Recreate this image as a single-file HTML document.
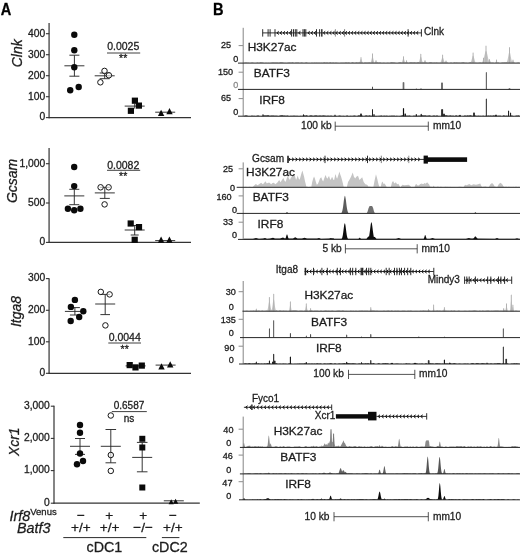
<!DOCTYPE html>
<html lang="en">
<head>
<meta charset="utf-8">
<title>Figure</title>
<style>
html,body{margin:0;padding:0;background:#fff;}
body{width:520px;height:557px;overflow:hidden;font-family:"Liberation Sans",Arial,Helvetica,sans-serif;}
svg{display:block;}
svg text{font-family:"Liberation Sans",Arial,Helvetica,sans-serif;}
</style>
</head>
<body>
<svg width="520" height="557" viewBox="0 0 520 557">
<rect x="0" y="0" width="520" height="557" fill="#ffffff"/>
<text transform="translate(0.70,14.80) scale(0.88,1)" font-size="16.6" text-anchor="start" font-weight="bold" fill="#000" stroke="#000" stroke-width="0.28" >A</text>
<text transform="translate(213.00,14.80) scale(0.885,1)" font-size="16.5" text-anchor="start" font-weight="bold" fill="#000" stroke="#000" stroke-width="0.28" >B</text>
<line x1="49.10" y1="23.00" x2="49.10" y2="118.20" stroke="#666" stroke-width="1.6" />
<line x1="48.70" y1="117.60" x2="191.00" y2="117.60" stroke="#333" stroke-width="1.2" />
<line x1="45.90" y1="33.70" x2="49.30" y2="33.70" stroke="#333" stroke-width="1.1" />
<text transform="translate(45.20,36.50) scale(1.03,1)" font-size="10.0" text-anchor="end" fill="#1c1c1c" stroke="#1c1c1c" stroke-width="0.28" >400</text>
<line x1="45.90" y1="54.70" x2="49.30" y2="54.70" stroke="#333" stroke-width="1.1" />
<text transform="translate(45.20,57.50) scale(1.03,1)" font-size="10.0" text-anchor="end" fill="#1c1c1c" stroke="#1c1c1c" stroke-width="0.28" >300</text>
<line x1="45.90" y1="75.70" x2="49.30" y2="75.70" stroke="#333" stroke-width="1.1" />
<text transform="translate(45.20,78.50) scale(1.03,1)" font-size="10.0" text-anchor="end" fill="#1c1c1c" stroke="#1c1c1c" stroke-width="0.28" >200</text>
<line x1="45.90" y1="96.70" x2="49.30" y2="96.70" stroke="#333" stroke-width="1.1" />
<text transform="translate(45.20,99.50) scale(1.03,1)" font-size="10.0" text-anchor="end" fill="#1c1c1c" stroke="#1c1c1c" stroke-width="0.28" >100</text>
<line x1="45.90" y1="117.60" x2="49.30" y2="117.60" stroke="#333" stroke-width="1.1" />
<text transform="translate(45.20,120.40) scale(1.03,1)" font-size="10.0" text-anchor="end" fill="#1c1c1c" stroke="#1c1c1c" stroke-width="0.28" >0</text>
<text transform="translate(21.60,53.30) rotate(-90)" font-size="14" text-anchor="middle" font-style="italic" fill="#1c1c1c" stroke="#1c1c1c" stroke-width="0.28">Clnk</text>
<line x1="64.40" y1="65.80" x2="84.40" y2="65.80" stroke="#2a2a2a" stroke-width="0.95" />
<line x1="74.40" y1="55.20" x2="74.40" y2="76.20" stroke="#2a2a2a" stroke-width="0.95" />
<line x1="69.40" y1="55.20" x2="79.40" y2="55.20" stroke="#2a2a2a" stroke-width="0.95" />
<line x1="69.40" y1="76.20" x2="79.40" y2="76.20" stroke="#2a2a2a" stroke-width="0.95" />
<circle cx="74.30" cy="34.70" r="3.2" fill="#0a0a0a"/>
<circle cx="74.30" cy="50.20" r="3.2" fill="#0a0a0a"/>
<circle cx="74.30" cy="67.20" r="3.2" fill="#0a0a0a"/>
<circle cx="78.70" cy="87.00" r="3.2" fill="#0a0a0a"/>
<circle cx="70.20" cy="90.20" r="3.2" fill="#0a0a0a"/>
<line x1="94.70" y1="75.80" x2="114.70" y2="75.80" stroke="#2a2a2a" stroke-width="0.95" />
<line x1="104.70" y1="73.00" x2="104.70" y2="78.70" stroke="#2a2a2a" stroke-width="0.95" />
<line x1="99.70" y1="73.00" x2="109.70" y2="73.00" stroke="#2a2a2a" stroke-width="0.95" />
<line x1="99.70" y1="78.70" x2="109.70" y2="78.70" stroke="#2a2a2a" stroke-width="0.95" />
<circle cx="104.50" cy="70.90" r="2.75" fill="#fff" fill-opacity="0.6" stroke="#161616" stroke-width="1.0"/>
<circle cx="108.90" cy="75.30" r="2.75" fill="#fff" fill-opacity="0.6" stroke="#161616" stroke-width="1.0"/>
<circle cx="100.40" cy="82.30" r="2.75" fill="#fff" fill-opacity="0.6" stroke="#161616" stroke-width="1.0"/>
<text x="123.20" y="50.00" font-size="10.5" text-anchor="middle" fill="#1c1c1c" stroke="#1c1c1c" stroke-width="0.28" >0.0025</text>
<line x1="107.00" y1="53.00" x2="140.20" y2="53.00" stroke="#2a2a2a" stroke-width="0.9" />
<text x="123.20" y="61.90" font-size="10.5" text-anchor="middle" fill="#1c1c1c" stroke="#1c1c1c" stroke-width="0.28" >**</text>
<line x1="124.70" y1="106.10" x2="144.70" y2="106.10" stroke="#2a2a2a" stroke-width="0.95" />
<line x1="134.70" y1="103.50" x2="134.70" y2="108.60" stroke="#2a2a2a" stroke-width="0.9" />
<rect x="131.80" y="97.60" width="6.2" height="6.2" fill="#0a0a0a"/>
<rect x="135.80" y="102.50" width="6.2" height="6.2" fill="#0a0a0a"/>
<rect x="127.80" y="107.70" width="6.2" height="6.2" fill="#0a0a0a"/>
<line x1="155.20" y1="112.20" x2="175.20" y2="112.20" stroke="#2a2a2a" stroke-width="0.95" />
<path d="M157.90,116.04 L164.30,116.04 L161.10,109.76 Z" fill="#0a0a0a"/>
<path d="M166.30,114.24 L172.70,114.24 L169.50,107.96 Z" fill="#0a0a0a"/>
<line x1="49.10" y1="148.10" x2="49.10" y2="243.00" stroke="#666" stroke-width="1.6" />
<line x1="48.70" y1="242.40" x2="191.00" y2="242.40" stroke="#333" stroke-width="1.2" />
<line x1="45.90" y1="163.70" x2="49.30" y2="163.70" stroke="#333" stroke-width="1.1" />
<text transform="translate(45.20,166.50) scale(1.03,1)" font-size="10.0" text-anchor="end" fill="#1c1c1c" stroke="#1c1c1c" stroke-width="0.28" >1,000</text>
<line x1="45.90" y1="203.00" x2="49.30" y2="203.00" stroke="#333" stroke-width="1.1" />
<text transform="translate(45.20,205.80) scale(1.03,1)" font-size="10.0" text-anchor="end" fill="#1c1c1c" stroke="#1c1c1c" stroke-width="0.28" >500</text>
<line x1="45.90" y1="242.40" x2="49.30" y2="242.40" stroke="#333" stroke-width="1.1" />
<text transform="translate(45.20,245.20) scale(1.03,1)" font-size="10.0" text-anchor="end" fill="#1c1c1c" stroke="#1c1c1c" stroke-width="0.28" >0</text>
<text transform="translate(17.20,180.90) rotate(-90)" font-size="14" text-anchor="middle" font-style="italic" fill="#1c1c1c" stroke="#1c1c1c" stroke-width="0.28">Gcsam</text>
<line x1="64.30" y1="195.90" x2="84.30" y2="195.90" stroke="#2a2a2a" stroke-width="0.95" />
<line x1="74.30" y1="189.30" x2="74.30" y2="204.70" stroke="#2a2a2a" stroke-width="0.95" />
<line x1="69.30" y1="189.30" x2="79.30" y2="189.30" stroke="#2a2a2a" stroke-width="0.95" />
<line x1="69.30" y1="204.70" x2="79.30" y2="204.70" stroke="#2a2a2a" stroke-width="0.95" />
<circle cx="74.20" cy="167.00" r="3.2" fill="#0a0a0a"/>
<circle cx="74.20" cy="186.10" r="3.2" fill="#0a0a0a"/>
<circle cx="67.90" cy="208.70" r="3.2" fill="#0a0a0a"/>
<circle cx="74.20" cy="210.20" r="3.2" fill="#0a0a0a"/>
<circle cx="80.40" cy="208.70" r="3.2" fill="#0a0a0a"/>
<line x1="94.80" y1="192.90" x2="114.80" y2="192.90" stroke="#2a2a2a" stroke-width="0.95" />
<line x1="104.80" y1="187.30" x2="104.80" y2="198.40" stroke="#2a2a2a" stroke-width="0.95" />
<line x1="99.80" y1="187.30" x2="109.80" y2="187.30" stroke="#2a2a2a" stroke-width="0.95" />
<line x1="99.80" y1="198.40" x2="109.80" y2="198.40" stroke="#2a2a2a" stroke-width="0.95" />
<circle cx="100.60" cy="187.30" r="2.75" fill="#fff" fill-opacity="0.6" stroke="#161616" stroke-width="1.0"/>
<circle cx="108.60" cy="187.30" r="2.75" fill="#fff" fill-opacity="0.6" stroke="#161616" stroke-width="1.0"/>
<circle cx="104.60" cy="204.40" r="2.75" fill="#fff" fill-opacity="0.6" stroke="#161616" stroke-width="1.0"/>
<text x="123.20" y="168.60" font-size="10.5" text-anchor="middle" fill="#1c1c1c" stroke="#1c1c1c" stroke-width="0.28" >0.0082</text>
<line x1="107.00" y1="170.30" x2="140.20" y2="170.30" stroke="#2a2a2a" stroke-width="0.9" />
<text x="123.20" y="180.30" font-size="10.5" text-anchor="middle" fill="#1c1c1c" stroke="#1c1c1c" stroke-width="0.28" >**</text>
<line x1="124.70" y1="230.00" x2="144.70" y2="230.00" stroke="#2a2a2a" stroke-width="0.95" />
<line x1="134.70" y1="225.50" x2="134.70" y2="235.00" stroke="#2a2a2a" stroke-width="0.95" />
<line x1="130.70" y1="225.50" x2="138.70" y2="225.50" stroke="#2a2a2a" stroke-width="0.95" />
<line x1="130.70" y1="235.00" x2="138.70" y2="235.00" stroke="#2a2a2a" stroke-width="0.95" />
<rect x="127.60" y="220.40" width="6.2" height="6.2" fill="#0a0a0a"/>
<rect x="135.90" y="224.00" width="6.2" height="6.2" fill="#0a0a0a"/>
<rect x="131.60" y="236.70" width="6.2" height="6.2" fill="#0a0a0a"/>
<line x1="155.20" y1="240.60" x2="175.20" y2="240.60" stroke="#2a2a2a" stroke-width="0.95" />
<path d="M157.90,242.74 L164.30,242.74 L161.10,236.46 Z" fill="#0a0a0a"/>
<path d="M166.20,242.74 L172.60,242.74 L169.40,236.46 Z" fill="#0a0a0a"/>
<line x1="49.10" y1="278.40" x2="49.10" y2="373.90" stroke="#666" stroke-width="1.6" />
<line x1="48.70" y1="373.30" x2="191.00" y2="373.30" stroke="#333" stroke-width="1.2" />
<line x1="45.90" y1="278.60" x2="49.30" y2="278.60" stroke="#333" stroke-width="1.1" />
<text transform="translate(45.20,281.40) scale(1.03,1)" font-size="10.0" text-anchor="end" fill="#1c1c1c" stroke="#1c1c1c" stroke-width="0.28" >300</text>
<line x1="45.90" y1="310.30" x2="49.30" y2="310.30" stroke="#333" stroke-width="1.1" />
<text transform="translate(45.20,313.10) scale(1.03,1)" font-size="10.0" text-anchor="end" fill="#1c1c1c" stroke="#1c1c1c" stroke-width="0.28" >200</text>
<line x1="45.90" y1="341.80" x2="49.30" y2="341.80" stroke="#333" stroke-width="1.1" />
<text transform="translate(45.20,344.60) scale(1.03,1)" font-size="10.0" text-anchor="end" fill="#1c1c1c" stroke="#1c1c1c" stroke-width="0.28" >100</text>
<line x1="45.90" y1="373.30" x2="49.30" y2="373.30" stroke="#333" stroke-width="1.1" />
<text transform="translate(45.20,376.10) scale(1.03,1)" font-size="10.0" text-anchor="end" fill="#1c1c1c" stroke="#1c1c1c" stroke-width="0.28" >0</text>
<text transform="translate(21.40,311.50) rotate(-90)" font-size="14" text-anchor="middle" font-style="italic" fill="#1c1c1c" stroke="#1c1c1c" stroke-width="0.28">Itga8</text>
<line x1="64.90" y1="311.40" x2="84.90" y2="311.40" stroke="#2a2a2a" stroke-width="0.95" />
<line x1="74.90" y1="307.60" x2="74.90" y2="315.00" stroke="#2a2a2a" stroke-width="0.95" />
<line x1="69.90" y1="307.60" x2="79.90" y2="307.60" stroke="#2a2a2a" stroke-width="0.95" />
<line x1="69.90" y1="315.00" x2="79.90" y2="315.00" stroke="#2a2a2a" stroke-width="0.95" />
<circle cx="74.90" cy="299.90" r="3.2" fill="#0a0a0a"/>
<circle cx="70.90" cy="306.90" r="3.2" fill="#0a0a0a"/>
<circle cx="83.30" cy="311.30" r="3.2" fill="#0a0a0a"/>
<circle cx="79.20" cy="317.00" r="3.2" fill="#0a0a0a"/>
<circle cx="70.70" cy="321.00" r="3.2" fill="#0a0a0a"/>
<line x1="95.20" y1="304.00" x2="115.20" y2="304.00" stroke="#2a2a2a" stroke-width="0.95" />
<line x1="105.20" y1="294.40" x2="105.20" y2="314.60" stroke="#2a2a2a" stroke-width="0.95" />
<line x1="100.40" y1="294.40" x2="110.00" y2="294.40" stroke="#2a2a2a" stroke-width="0.95" />
<line x1="100.40" y1="314.60" x2="110.00" y2="314.60" stroke="#2a2a2a" stroke-width="0.95" />
<circle cx="100.80" cy="291.90" r="2.75" fill="#fff" fill-opacity="0.6" stroke="#161616" stroke-width="1.0"/>
<circle cx="109.60" cy="294.40" r="2.75" fill="#fff" fill-opacity="0.6" stroke="#161616" stroke-width="1.0"/>
<circle cx="105.40" cy="325.40" r="2.75" fill="#fff" fill-opacity="0.6" stroke="#161616" stroke-width="1.0"/>
<text x="124.70" y="340.90" font-size="10.5" text-anchor="middle" fill="#1c1c1c" stroke="#1c1c1c" stroke-width="0.28" >0.0044</text>
<line x1="108.30" y1="343.00" x2="141.00" y2="343.00" stroke="#2a2a2a" stroke-width="0.9" />
<text x="124.70" y="352.50" font-size="10.5" text-anchor="middle" fill="#1c1c1c" stroke="#1c1c1c" stroke-width="0.28" >**</text>
<line x1="125.60" y1="365.90" x2="145.60" y2="365.90" stroke="#2a2a2a" stroke-width="0.95" />
<rect x="126.60" y="362.00" width="6.2" height="6.2" fill="#0a0a0a"/>
<rect x="132.40" y="364.30" width="6.2" height="6.2" fill="#0a0a0a"/>
<rect x="138.70" y="362.50" width="6.2" height="6.2" fill="#0a0a0a"/>
<line x1="155.60" y1="365.10" x2="175.60" y2="365.10" stroke="#2a2a2a" stroke-width="0.95" />
<path d="M158.30,369.54 L164.70,369.54 L161.50,363.26 Z" fill="#0a0a0a"/>
<path d="M167.00,367.54 L173.40,367.54 L170.20,361.26 Z" fill="#0a0a0a"/>
<line x1="54.00" y1="405.70" x2="54.00" y2="503.80" stroke="#666" stroke-width="1.6" />
<line x1="53.60" y1="503.20" x2="199.80" y2="503.20" stroke="#333" stroke-width="1.2" />
<line x1="50.80" y1="406.20" x2="54.20" y2="406.20" stroke="#333" stroke-width="1.1" />
<text transform="translate(49.80,409.00) scale(1.03,1)" font-size="10.0" text-anchor="end" fill="#1c1c1c" stroke="#1c1c1c" stroke-width="0.28" >3,000</text>
<line x1="50.80" y1="438.40" x2="54.20" y2="438.40" stroke="#333" stroke-width="1.1" />
<text transform="translate(49.80,441.20) scale(1.03,1)" font-size="10.0" text-anchor="end" fill="#1c1c1c" stroke="#1c1c1c" stroke-width="0.28" >2,000</text>
<line x1="50.80" y1="470.60" x2="54.20" y2="470.60" stroke="#333" stroke-width="1.1" />
<text transform="translate(49.80,473.40) scale(1.03,1)" font-size="10.0" text-anchor="end" fill="#1c1c1c" stroke="#1c1c1c" stroke-width="0.28" >1,000</text>
<line x1="50.80" y1="503.20" x2="54.20" y2="503.20" stroke="#333" stroke-width="1.1" />
<text transform="translate(49.80,506.00) scale(1.03,1)" font-size="10.0" text-anchor="end" fill="#1c1c1c" stroke="#1c1c1c" stroke-width="0.28" >0</text>
<text transform="translate(19.10,441.70) rotate(-90)" font-size="13.8" text-anchor="middle" font-style="italic" fill="#1c1c1c" stroke="#1c1c1c" stroke-width="0.28">Xcr1</text>
<line x1="70.00" y1="446.30" x2="90.00" y2="446.30" stroke="#2a2a2a" stroke-width="0.95" />
<line x1="80.00" y1="438.50" x2="80.00" y2="454.40" stroke="#2a2a2a" stroke-width="0.95" />
<line x1="75.00" y1="438.50" x2="85.00" y2="438.50" stroke="#2a2a2a" stroke-width="0.95" />
<line x1="75.00" y1="454.40" x2="85.00" y2="454.40" stroke="#2a2a2a" stroke-width="0.95" />
<circle cx="80.00" cy="425.00" r="3.2" fill="#0a0a0a"/>
<circle cx="80.00" cy="432.80" r="3.2" fill="#0a0a0a"/>
<circle cx="80.00" cy="453.50" r="3.2" fill="#0a0a0a"/>
<circle cx="83.00" cy="461.00" r="3.2" fill="#0a0a0a"/>
<circle cx="77.00" cy="464.30" r="3.2" fill="#0a0a0a"/>
<line x1="100.80" y1="446.30" x2="120.80" y2="446.30" stroke="#2a2a2a" stroke-width="0.95" />
<line x1="110.80" y1="429.50" x2="110.80" y2="462.80" stroke="#2a2a2a" stroke-width="0.95" />
<line x1="105.50" y1="429.50" x2="116.10" y2="429.50" stroke="#2a2a2a" stroke-width="0.95" />
<line x1="105.50" y1="462.80" x2="116.10" y2="462.80" stroke="#2a2a2a" stroke-width="0.95" />
<circle cx="110.80" cy="415.50" r="2.75" fill="#fff" fill-opacity="0.6" stroke="#161616" stroke-width="1.0"/>
<circle cx="110.80" cy="455.00" r="2.75" fill="#fff" fill-opacity="0.6" stroke="#161616" stroke-width="1.0"/>
<circle cx="110.80" cy="470.90" r="2.75" fill="#fff" fill-opacity="0.6" stroke="#161616" stroke-width="1.0"/>
<text x="129.00" y="408.80" font-size="10.0" text-anchor="middle" fill="#1c1c1c" stroke="#1c1c1c" stroke-width="0.28" >0.6587</text>
<line x1="111.80" y1="411.60" x2="146.80" y2="411.60" stroke="#2a2a2a" stroke-width="0.9" />
<text x="129.00" y="422.00" font-size="10.0" text-anchor="middle" fill="#1c1c1c" stroke="#1c1c1c" stroke-width="0.28" >ns</text>
<line x1="132.20" y1="457.40" x2="152.20" y2="457.40" stroke="#2a2a2a" stroke-width="0.95" />
<line x1="142.20" y1="442.40" x2="142.20" y2="471.80" stroke="#2a2a2a" stroke-width="0.95" />
<line x1="136.90" y1="442.40" x2="147.50" y2="442.40" stroke="#2a2a2a" stroke-width="0.95" />
<line x1="136.90" y1="471.80" x2="147.50" y2="471.80" stroke="#2a2a2a" stroke-width="0.95" />
<rect x="139.30" y="435.80" width="6.0" height="6.0" fill="#0a0a0a"/>
<rect x="139.30" y="444.50" width="6.0" height="6.0" fill="#0a0a0a"/>
<rect x="139.30" y="484.50" width="6.0" height="6.0" fill="#0a0a0a"/>
<line x1="163.80" y1="500.80" x2="183.80" y2="500.80" stroke="#2a2a2a" stroke-width="0.95" />
<path d="M168.60,504.35 L173.80,504.35 L171.20,499.25 Z" fill="#0a0a0a"/>
<path d="M173.00,503.75 L178.20,503.75 L175.60,498.65 Z" fill="#0a0a0a"/>
<text x="9.6" y="521.0" font-size="14.3" font-style="italic" fill="#1c1c1c" stroke="#1c1c1c" stroke-width="0.28">Irf8<tspan font-style="normal" font-size="9.5" dy="-5.9" dx="0.0">Venus</tspan></text>
<text x="17.00" y="532.50" font-size="14.3" text-anchor="start" font-style="italic" fill="#1c1c1c" stroke="#1c1c1c" stroke-width="0.28" >Batf3</text>
<text x="81.00" y="520.20" font-size="13.6" text-anchor="middle" fill="#1c1c1c" stroke="#1c1c1c" stroke-width="0.28" >−</text>
<text x="109.30" y="520.20" font-size="13.6" text-anchor="middle" fill="#1c1c1c" stroke="#1c1c1c" stroke-width="0.28" >+</text>
<text x="143.30" y="520.20" font-size="13.6" text-anchor="middle" fill="#1c1c1c" stroke="#1c1c1c" stroke-width="0.28" >+</text>
<text x="172.90" y="520.20" font-size="13.6" text-anchor="middle" fill="#1c1c1c" stroke="#1c1c1c" stroke-width="0.28" >−</text>
<text x="80.90" y="531.90" font-size="13.6" text-anchor="middle" fill="#1c1c1c" stroke="#1c1c1c" stroke-width="0.28" >+/+</text>
<text x="109.70" y="531.90" font-size="13.6" text-anchor="middle" fill="#1c1c1c" stroke="#1c1c1c" stroke-width="0.28" >+/+</text>
<text x="143.10" y="531.90" font-size="13.6" text-anchor="middle" fill="#1c1c1c" stroke="#1c1c1c" stroke-width="0.28" >−/−</text>
<text x="172.80" y="531.90" font-size="13.6" text-anchor="middle" fill="#1c1c1c" stroke="#1c1c1c" stroke-width="0.28" >+/+</text>
<line x1="63.30" y1="537.60" x2="146.30" y2="537.60" stroke="#2a2a2a" stroke-width="1.0" />
<line x1="161.90" y1="537.60" x2="179.40" y2="537.60" stroke="#2a2a2a" stroke-width="1.0" />
<text x="104.40" y="551.80" font-size="14.3" text-anchor="middle" fill="#1c1c1c" stroke="#1c1c1c" stroke-width="0.28" >cDC1</text>
<text x="169.80" y="551.80" font-size="14.3" text-anchor="middle" fill="#1c1c1c" stroke="#1c1c1c" stroke-width="0.28" >cDC2</text>
<line x1="262.70" y1="32.90" x2="421.40" y2="32.90" stroke="#1a1a1a" stroke-width="0.9" />
<path d="M278.66,31.30 L276.82,32.90 L278.66,34.50 M281.76,31.30 L279.92,32.90 L281.76,34.50 M284.86,31.30 L283.02,32.90 L284.86,34.50 M287.96,31.30 L286.12,32.90 L287.96,34.50 M291.06,31.30 L289.22,32.90 L291.06,34.50 M300.36,31.30 L298.52,32.90 L300.36,34.50 M309.66,31.30 L307.82,32.90 L309.66,34.50 M312.76,31.30 L310.92,32.90 L312.76,34.50 M315.86,31.30 L314.02,32.90 L315.86,34.50 M325.16,31.30 L323.32,32.90 L325.16,34.50 M328.26,31.30 L326.42,32.90 L328.26,34.50 M331.36,31.30 L329.52,32.90 L331.36,34.50 M334.46,31.30 L332.62,32.90 L334.46,34.50 M337.56,31.30 L335.72,32.90 L337.56,34.50 M340.66,31.30 L338.82,32.90 L340.66,34.50 M343.76,31.30 L341.92,32.90 L343.76,34.50 M346.86,31.30 L345.02,32.90 L346.86,34.50 M349.96,31.30 L348.12,32.90 L349.96,34.50 M353.06,31.30 L351.22,32.90 L353.06,34.50 M356.16,31.30 L354.32,32.90 L356.16,34.50 M359.26,31.30 L357.42,32.90 L359.26,34.50 M362.36,31.30 L360.52,32.90 L362.36,34.50 M365.46,31.30 L363.62,32.90 L365.46,34.50 M368.56,31.30 L366.72,32.90 L368.56,34.50 M371.66,31.30 L369.82,32.90 L371.66,34.50 M374.76,31.30 L372.92,32.90 L374.76,34.50 M377.86,31.30 L376.02,32.90 L377.86,34.50 M380.96,31.30 L379.12,32.90 L380.96,34.50 M384.06,31.30 L382.22,32.90 L384.06,34.50 M387.16,31.30 L385.32,32.90 L387.16,34.50 M390.26,31.30 L388.42,32.90 L390.26,34.50 M393.36,31.30 L391.52,32.90 L393.36,34.50 M396.46,31.30 L394.62,32.90 L396.46,34.50 M399.56,31.30 L397.72,32.90 L399.56,34.50 M402.66,31.30 L400.82,32.90 L402.66,34.50 M405.76,31.30 L403.92,32.90 L405.76,34.50 M408.86,31.30 L407.02,32.90 L408.86,34.50 M411.96,31.30 L410.12,32.90 L411.96,34.50 M415.06,31.30 L413.22,32.90 L415.06,34.50 M418.16,31.30 L416.32,32.90 L418.16,34.50" fill="#1a1a1a" fill-opacity="0.55" stroke="#1a1a1a" stroke-width="1.0" stroke-linejoin="miter"/>
<line x1="262.70" y1="29.20" x2="262.70" y2="36.60" stroke="#222" stroke-width="0.95" />
<line x1="268.10" y1="29.20" x2="268.10" y2="36.60" stroke="#222" stroke-width="0.95" />
<line x1="270.10" y1="29.20" x2="270.10" y2="36.60" stroke="#222" stroke-width="0.95" />
<line x1="275.00" y1="29.20" x2="275.00" y2="36.60" stroke="#222" stroke-width="0.95" />
<line x1="291.60" y1="29.20" x2="291.60" y2="36.60" stroke="#222" stroke-width="0.95" />
<line x1="293.50" y1="29.20" x2="293.50" y2="36.60" stroke="#222" stroke-width="0.95" />
<line x1="295.30" y1="29.20" x2="295.30" y2="36.60" stroke="#222" stroke-width="0.95" />
<line x1="296.80" y1="29.20" x2="296.80" y2="36.60" stroke="#222" stroke-width="0.95" />
<line x1="303.00" y1="29.20" x2="303.00" y2="36.60" stroke="#222" stroke-width="1.0" />
<line x1="304.40" y1="29.20" x2="304.40" y2="36.60" stroke="#222" stroke-width="1.0" />
<line x1="305.80" y1="29.20" x2="305.80" y2="36.60" stroke="#222" stroke-width="1.0" />
<line x1="316.50" y1="29.20" x2="316.50" y2="36.60" stroke="#222" stroke-width="0.95" />
<line x1="319.60" y1="29.20" x2="319.60" y2="36.60" stroke="#222" stroke-width="0.95" />
<line x1="321.60" y1="29.20" x2="321.60" y2="36.60" stroke="#222" stroke-width="0.95" />
<line x1="322.40" y1="29.20" x2="322.40" y2="36.60" stroke="#222" stroke-width="0.5" />
<line x1="335.40" y1="29.20" x2="335.40" y2="36.60" stroke="#222" stroke-width="0.5" />
<line x1="344.60" y1="29.20" x2="344.60" y2="36.60" stroke="#222" stroke-width="0.6" />
<line x1="408.10" y1="29.20" x2="408.10" y2="36.60" stroke="#222" stroke-width="0.95" />
<line x1="421.40" y1="29.20" x2="421.40" y2="36.60" stroke="#222" stroke-width="0.95" />
<text x="424.00" y="35.40" font-size="10.0" text-anchor="start" fill="#1c1c1c" stroke="#1c1c1c" stroke-width="0.28" >Clnk</text>
<path d="M244.00,63.10 L244.00,62.56 L245.00,62.43 L246.00,61.99 L247.00,62.54 L248.00,62.49 L249.00,62.40 L250.00,62.88 L251.00,62.49 L252.00,62.34 L253.00,62.15 L254.00,62.99 L255.00,62.74 L256.00,62.99 L257.00,62.13 L258.00,62.27 L259.00,63.05 L260.00,61.92 L261.00,61.94 L262.00,62.32 L263.00,62.36 L264.00,62.91 L265.00,63.08 L266.00,62.47 L267.00,63.03 L268.00,62.87 L269.00,62.81 L270.00,63.06 L271.00,62.54 L272.00,62.57 L273.00,62.09 L274.00,62.48 L275.00,62.33 L276.00,62.50 L277.00,62.31 L278.00,62.55 L279.00,62.77 L280.00,61.90 L281.00,61.91 L282.00,62.09 L283.00,62.25 L284.00,62.72 L285.00,62.82 L286.00,62.75 L287.00,63.02 L288.00,62.18 L289.00,62.62 L290.00,62.08 L291.00,62.64 L292.00,61.95 L293.00,62.08 L294.00,63.10 L295.00,62.85 L296.00,62.01 L297.00,62.54 L298.00,61.92 L299.00,62.62 L300.00,63.01 L301.00,62.34 L302.00,62.17 L303.00,62.78 L304.00,63.00 L305.00,62.70 L306.00,61.94 L307.00,62.19 L308.00,62.96 L309.00,62.80 L310.00,62.98 L311.00,63.03 L312.00,62.14 L313.00,62.89 L314.00,62.43 L315.00,62.56 L316.00,62.87 L317.00,62.22 L318.00,62.94 L319.00,62.33 L320.00,62.96 L321.00,62.60 L322.00,62.84 L323.00,62.78 L324.00,61.93 L325.00,62.14 L326.00,62.74 L327.00,62.04 L328.00,62.85 L329.00,62.63 L330.00,62.07 L331.00,62.33 L332.00,62.98 L333.00,61.91 L334.00,62.84 L335.00,62.79 L336.00,62.17 L337.00,62.71 L338.00,62.74 L339.00,63.01 L340.00,62.99 L341.00,62.40 L342.00,62.81 L343.00,62.38 L344.00,62.65 L345.00,62.56 L346.00,61.95 L347.00,62.52 L348.00,62.41 L349.00,62.06 L350.00,62.88 L351.00,62.92 L352.00,62.01 L353.00,62.12 L354.00,62.80 L355.00,62.87 L356.00,62.21 L357.00,61.97 L358.00,62.86 L359.00,61.96 L360.00,62.04 L361.00,62.38 L362.00,62.59 L363.00,62.98 L364.00,63.05 L365.00,61.94 L366.00,62.81 L367.00,62.25 L368.00,62.79 L369.00,62.11 L370.00,62.38 L371.00,62.75 L372.00,62.89 L373.00,62.24 L374.00,63.02 L375.00,62.83 L376.00,62.43 L377.00,62.08 L378.00,62.36 L379.00,62.76 L380.00,62.00 L381.00,62.86 L382.00,63.08 L383.00,62.78 L384.00,62.57 L385.00,63.03 L386.00,62.89 L387.00,62.66 L388.00,62.41 L389.00,62.94 L390.00,62.67 L391.00,62.03 L392.00,61.92 L393.00,62.31 L394.00,62.27 L395.00,62.40 L396.00,62.93 L397.00,63.06 L398.00,63.08 L399.00,62.01 L400.00,62.26 L401.00,61.94 L402.00,63.07 L403.00,62.34 L404.00,62.52 L405.00,62.22 L406.00,62.72 L407.00,61.90 L408.00,63.01 L409.00,62.44 L410.00,62.22 L411.00,62.02 L412.00,62.22 L413.00,62.26 L414.00,62.15 L415.00,62.00 L416.00,62.68 L417.00,62.28 L418.00,62.02 L419.00,62.05 L420.00,62.60 L421.00,62.15 L422.00,62.06 L423.00,62.41 L424.00,62.35 L425.00,62.64 L426.00,62.40 L427.00,62.37 L428.00,63.00 L429.00,62.33 L430.00,61.91 L431.00,62.04 L432.00,62.23 L433.00,62.63 L434.00,62.22 L435.00,62.40 L436.00,62.57 L437.00,62.09 L438.00,63.00 L439.00,62.20 L440.00,63.06 L441.00,62.38 L442.00,62.52 L443.00,62.82 L444.00,62.26 L445.00,62.50 L446.00,62.36 L447.00,62.00 L448.00,62.79 L449.00,63.09 L450.00,62.74 L451.00,62.29 L452.00,62.86 L453.00,62.90 L454.00,62.01 L455.00,62.31 L456.00,62.57 L457.00,62.03 L458.00,62.71 L459.00,62.30 L460.00,62.86 L461.00,62.58 L462.00,62.13 L463.00,62.00 L464.00,62.04 L465.00,62.64 L466.00,62.40 L467.00,62.72 L468.00,62.94 L469.00,62.50 L470.00,62.10 L471.00,62.08 L472.00,62.25 L473.00,61.96 L474.00,62.77 L475.00,62.90 L476.00,62.56 L477.00,62.77 L478.00,62.84 L479.00,62.60 L480.00,62.35 L481.00,62.51 L482.00,62.72 L483.00,62.09 L484.00,61.92 L485.00,62.56 L486.00,63.01 L487.00,63.06 L488.00,62.05 L489.00,63.05 L490.00,62.25 L491.00,62.42 L492.00,62.73 L493.00,62.15 L494.00,63.08 L495.00,62.94 L496.00,62.55 L497.00,63.07 L498.00,62.10 L499.00,62.82 L500.00,62.93 L501.00,63.04 L502.00,62.34 L503.00,62.56 L504.00,62.34 L505.00,62.31 L506.00,62.13 L507.00,61.95 L508.00,62.28 L509.00,62.86 L510.00,62.53 L511.00,62.89 L512.00,63.09 L513.00,62.53 L514.00,62.24 L515.00,62.89 L516.00,62.77 L517.00,62.69 L518.00,62.26 L519.00,62.48 L520.00,63.10 Z" fill="#b8b8b8"/>
<path d="M359.20,63.10 L359.20,62.64 L359.35,62.44 L359.50,62.19 L359.65,61.88 L359.80,61.52 L359.95,61.12 L360.10,60.68 L360.25,60.24 L360.40,59.81 L360.55,59.44 L360.70,59.15 L360.85,58.96 L361.00,58.90 L361.15,58.96 L361.30,59.15 L361.45,59.44 L361.60,59.81 L361.75,60.24 L361.90,60.68 L362.05,61.12 L362.20,61.52 L362.35,61.88 L362.50,62.19 L362.65,62.44 L362.80,62.64 L362.80,63.10 Z M370.70,63.10 L370.70,62.34 L370.85,62.02 L371.00,61.62 L371.15,61.12 L371.30,60.53 L371.45,59.86 L371.60,59.15 L371.75,58.42 L371.90,57.73 L372.05,57.12 L372.20,56.65 L372.35,56.34 L372.50,56.24 L372.65,56.34 L372.80,56.65 L372.95,57.12 L373.10,57.73 L373.25,58.42 L373.40,59.15 L373.55,59.86 L373.70,60.53 L373.85,61.12 L374.00,61.62 L374.15,62.02 L374.30,62.34 L374.30,63.10 Z M374.50,63.10 L374.50,62.86 L374.75,62.63 L375.00,62.29 L375.25,61.85 L375.50,61.40 L375.75,61.06 L376.00,60.93 L376.25,61.06 L376.50,61.40 L376.75,61.85 L377.00,62.29 L377.25,62.63 L377.50,62.86 L377.50,63.10 Z M401.70,63.10 L401.70,62.57 L401.85,62.34 L402.00,62.06 L402.15,61.70 L402.30,61.29 L402.45,60.82 L402.60,60.32 L402.75,59.81 L402.90,59.32 L403.05,58.89 L403.20,58.56 L403.35,58.34 L403.50,58.27 L403.65,58.34 L403.80,58.56 L403.95,58.89 L404.10,59.32 L404.25,59.81 L404.40,60.32 L404.55,60.82 L404.70,61.29 L404.85,61.70 L405.00,62.06 L405.15,62.34 L405.30,62.57 L405.30,63.10 Z M405.00,63.10 L405.00,62.88 L405.25,62.66 L405.50,62.34 L405.75,61.93 L406.00,61.51 L406.25,61.19 L406.50,61.07 L406.75,61.19 L407.00,61.51 L407.25,61.93 L407.50,62.34 L407.75,62.66 L408.00,62.88 L408.00,63.10 Z M418.80,63.10 L418.80,62.37 L418.97,62.07 L419.13,61.68 L419.30,61.20 L419.47,60.63 L419.63,59.99 L419.80,59.31 L419.97,58.61 L420.13,57.95 L420.30,57.37 L420.47,56.91 L420.63,56.62 L420.80,56.52 L420.97,56.62 L421.13,56.91 L421.30,57.37 L421.47,57.95 L421.63,58.61 L421.80,59.31 L421.97,59.99 L422.13,60.63 L422.30,61.20 L422.47,61.68 L422.63,62.07 L422.80,62.37 L422.80,63.10 Z M423.20,63.10 L423.20,62.86 L423.35,62.76 L423.50,62.63 L423.65,62.47 L423.80,62.29 L423.95,62.08 L424.10,61.85 L424.25,61.62 L424.40,61.40 L424.55,61.21 L424.70,61.06 L424.85,60.96 L425.00,60.93 L425.15,60.96 L425.30,61.06 L425.45,61.21 L425.60,61.40 L425.75,61.62 L425.90,61.85 L426.05,62.08 L426.20,62.29 L426.35,62.47 L426.50,62.63 L426.65,62.76 L426.80,62.86 L426.80,63.10 Z M440.40,63.10 L440.40,62.44 L440.58,62.17 L440.77,61.81 L440.95,61.38 L441.13,60.87 L441.32,60.29 L441.50,59.67 L441.68,59.04 L441.87,58.44 L442.05,57.92 L442.23,57.50 L442.42,57.24 L442.60,57.15 L442.78,57.24 L442.97,57.50 L443.15,57.92 L443.33,58.44 L443.52,59.04 L443.70,59.67 L443.88,60.29 L444.07,60.87 L444.25,61.38 L444.43,61.81 L444.62,62.17 L444.80,62.44 L444.80,63.10 Z M444.50,63.10 L444.50,62.89 L444.75,62.69 L445.00,62.39 L445.25,62.01 L445.50,61.62 L445.75,61.32 L446.00,61.21 L446.25,61.32 L446.50,61.62 L446.75,62.01 L447.00,62.39 L447.25,62.69 L447.50,62.89 L447.50,63.10 Z M470.70,63.10 L470.70,62.27 L470.90,61.93 L471.10,61.48 L471.30,60.93 L471.50,60.29 L471.70,59.56 L471.90,58.78 L472.10,57.99 L472.30,57.24 L472.50,56.57 L472.70,56.05 L472.90,55.72 L473.10,55.61 L473.30,55.72 L473.50,56.05 L473.70,56.57 L473.90,57.24 L474.10,57.99 L474.30,58.78 L474.50,59.56 L474.70,60.29 L474.90,60.93 L475.10,61.48 L475.30,61.93 L475.50,62.27 L475.50,63.10 Z M482.70,63.10 L482.70,61.74 L482.98,61.17 L483.25,60.44 L483.52,59.54 L483.80,58.48 L484.07,57.28 L484.35,56.00 L484.62,54.70 L484.90,53.46 L485.18,52.37 L485.45,51.51 L485.73,50.97 L486.00,50.78 L486.27,50.97 L486.55,51.51 L486.82,52.37 L487.10,53.46 L487.38,54.70 L487.65,56.00 L487.93,57.28 L488.20,58.48 L488.48,59.54 L488.75,60.44 L489.02,61.17 L489.30,61.74 L489.30,63.10 Z M482.00,63.10 L482.00,62.67 L482.25,62.25 L482.50,61.63 L482.75,60.84 L483.00,60.03 L483.25,59.41 L483.50,59.18 L483.75,59.41 L484.00,60.03 L484.25,60.84 L484.50,61.63 L484.75,62.25 L485.00,62.67 L485.00,63.10 Z M487.50,63.10 L487.50,62.78 L487.67,62.65 L487.83,62.48 L488.00,62.27 L488.17,62.02 L488.33,61.74 L488.50,61.45 L488.67,61.14 L488.83,60.85 L489.00,60.60 L489.17,60.40 L489.33,60.27 L489.50,60.23 L489.67,60.27 L489.83,60.40 L490.00,60.60 L490.17,60.85 L490.33,61.14 L490.50,61.45 L490.67,61.74 L490.83,62.02 L491.00,62.27 L491.17,62.48 L491.33,62.65 L491.50,62.78 L491.50,63.10 Z M495.30,63.10 L495.30,62.81 L495.50,62.54 L495.70,62.13 L495.90,61.61 L496.10,61.07 L496.30,60.66 L496.50,60.51 L496.70,60.66 L496.90,61.07 L497.10,61.61 L497.30,62.13 L497.50,62.54 L497.70,62.81 L497.70,63.10 Z M506.90,63.10 L506.90,61.87 L507.12,61.34 L507.33,60.68 L507.55,59.86 L507.77,58.90 L507.98,57.81 L508.20,56.65 L508.42,55.46 L508.63,54.33 L508.85,53.34 L509.07,52.57 L509.28,52.07 L509.50,51.90 L509.72,52.07 L509.93,52.57 L510.15,53.34 L510.37,54.33 L510.58,55.46 L510.80,56.65 L511.02,57.81 L511.23,58.90 L511.45,59.86 L511.67,60.68 L511.88,61.34 L512.10,61.87 L512.10,63.10 Z M511.50,63.10 L511.50,62.82 L511.75,62.56 L512.00,62.15 L512.25,61.65 L512.50,61.13 L512.75,60.73 L513.00,60.58 L513.25,60.73 L513.50,61.13 L513.75,61.65 L514.00,62.15 L514.25,62.56 L514.50,62.82 L514.50,63.10 Z" fill="#c4c4c4"/>
<path d="M360.50,63.10 L360.50,57.50 L361.00,57.10 L361.50,57.50 L361.50,63.10 Z M372.00,63.10 L372.00,53.70 L372.50,53.30 L373.00,53.70 L373.00,63.10 Z M375.50,63.10 L375.50,60.40 L376.00,60.00 L376.50,60.40 L376.50,63.10 Z M403.00,63.10 L403.00,56.60 L403.50,56.20 L404.00,56.60 L404.00,63.10 Z M406.00,63.10 L406.00,60.60 L406.50,60.20 L407.00,60.60 L407.00,63.10 Z M420.30,63.10 L420.30,54.10 L420.80,53.70 L421.30,54.10 L421.30,63.10 Z M424.50,63.10 L424.50,60.40 L425.00,60.00 L425.50,60.40 L425.50,63.10 Z M442.10,63.10 L442.10,55.00 L442.60,54.60 L443.10,55.00 L443.10,63.10 Z M445.50,63.10 L445.50,60.80 L446.00,60.40 L446.50,60.80 L446.50,63.10 Z M472.60,63.10 L472.60,52.80 L473.10,52.40 L473.60,52.80 L473.60,63.10 Z M485.50,63.10 L485.50,45.90 L486.00,45.50 L486.50,45.90 L486.50,63.10 Z M483.00,63.10 L483.00,57.90 L483.50,57.50 L484.00,57.90 L484.00,63.10 Z M489.00,63.10 L489.00,59.40 L489.50,59.00 L490.00,59.40 L490.00,63.10 Z M496.00,63.10 L496.00,59.80 L496.50,59.40 L497.00,59.80 L497.00,63.10 Z M509.00,63.10 L509.00,47.50 L509.50,47.10 L510.00,47.50 L510.00,63.10 Z M512.50,63.10 L512.50,59.90 L513.00,59.50 L513.50,59.90 L513.50,63.10 Z" fill="#b2b2b2"/>
<path d="M372.05,89.40 L372.05,86.90 L372.50,86.50 L372.95,86.90 L372.95,89.40 Z M415.85,89.40 L415.85,88.80 L416.30,88.40 L416.75,88.80 L416.75,89.40 Z M420.55,89.40 L420.55,88.60 L421.00,88.20 L421.45,88.60 L421.45,89.40 Z M485.85,89.40 L485.85,72.40 L486.30,72.00 L486.75,72.40 L486.75,89.40 Z M508.50,89.40 L508.50,88.70 L509.50,88.30 L510.50,88.70 L510.50,89.40 Z" fill="#3a3a3a"/>
<path d="M402.65,89.40 L402.65,82.50 L403.50,82.10 L404.35,82.50 L404.35,89.40 Z M441.05,89.40 L441.05,82.80 L442.00,82.40 L442.95,82.80 L442.95,89.40 Z" fill="#6a6a6a"/>
<path d="M244.00,116.20 L244.00,115.97 L245.00,115.58 L246.00,115.58 L247.00,115.44 L248.00,116.03 L249.00,115.99 L250.00,116.07 L251.00,116.00 L252.00,115.54 L253.00,116.08 L254.00,115.72 L255.00,116.01 L256.00,115.93 L257.00,115.81 L258.00,115.45 L259.00,115.65 L260.00,116.19 L261.00,115.95 L262.00,116.07 L263.00,115.42 L264.00,115.47 L265.00,115.47 L266.00,115.46 L267.00,115.53 L268.00,115.35 L269.00,115.49 L270.00,115.97 L271.00,115.44 L272.00,115.76 L273.00,115.52 L274.00,115.69 L275.00,115.81 L276.00,115.87 L277.00,115.81 L278.00,115.92 L279.00,116.09 L280.00,115.46 L281.00,115.48 L282.00,115.31 L283.00,115.58 L284.00,115.70 L285.00,115.53 L286.00,116.08 L287.00,115.59 L288.00,115.80 L289.00,116.04 L290.00,116.02 L291.00,115.73 L292.00,115.97 L293.00,115.79 L294.00,115.66 L295.00,115.84 L296.00,116.08 L297.00,115.76 L298.00,115.99 L299.00,115.99 L300.00,116.02 L301.00,115.87 L302.00,116.13 L303.00,115.61 L304.00,115.34 L305.00,115.85 L306.00,115.55 L307.00,115.36 L308.00,116.16 L309.00,116.07 L310.00,115.47 L311.00,115.45 L312.00,115.62 L313.00,116.06 L314.00,115.83 L315.00,115.42 L316.00,115.40 L317.00,115.48 L318.00,116.02 L319.00,115.43 L320.00,115.86 L321.00,115.56 L322.00,116.08 L323.00,115.33 L324.00,115.66 L325.00,115.55 L326.00,116.01 L327.00,115.64 L328.00,115.68 L329.00,115.67 L330.00,115.88 L331.00,115.55 L332.00,115.89 L333.00,115.93 L334.00,116.05 L335.00,115.58 L336.00,116.10 L337.00,116.00 L338.00,116.14 L339.00,115.62 L340.00,115.70 L341.00,115.71 L342.00,116.17 L343.00,115.80 L344.00,115.89 L345.00,116.12 L346.00,116.20 L347.00,115.30 L348.00,116.09 L349.00,115.93 L350.00,115.96 L351.00,115.66 L352.00,116.13 L353.00,115.78 L354.00,115.87 L355.00,115.45 L356.00,116.19 L357.00,115.90 L358.00,115.75 L359.00,115.33 L360.00,115.73 L361.00,115.77 L362.00,115.60 L363.00,115.93 L364.00,116.17 L365.00,115.75 L366.00,115.38 L367.00,115.54 L368.00,115.97 L369.00,115.58 L370.00,115.44 L371.00,115.97 L372.00,115.67 L373.00,115.88 L374.00,115.98 L375.00,115.94 L376.00,116.02 L377.00,115.88 L378.00,116.17 L379.00,115.84 L380.00,116.12 L381.00,115.52 L382.00,115.66 L383.00,116.20 L384.00,115.50 L385.00,116.03 L386.00,115.77 L387.00,115.70 L388.00,115.90 L389.00,115.94 L390.00,115.81 L391.00,116.08 L392.00,115.42 L393.00,116.10 L394.00,115.46 L395.00,116.00 L396.00,115.93 L397.00,115.85 L398.00,116.17 L399.00,116.08 L400.00,115.88 L401.00,115.80 L402.00,115.41 L403.00,115.31 L404.00,116.16 L405.00,115.72 L406.00,116.08 L407.00,115.48 L408.00,115.91 L409.00,115.40 L410.00,115.71 L411.00,116.09 L412.00,116.20 L413.00,115.98 L414.00,115.42 L415.00,116.07 L416.00,115.77 L417.00,115.87 L418.00,115.89 L419.00,115.48 L420.00,116.01 L421.00,115.55 L422.00,115.60 L423.00,115.36 L424.00,115.73 L425.00,115.37 L426.00,115.80 L427.00,115.68 L428.00,115.64 L429.00,115.44 L430.00,115.39 L431.00,116.10 L432.00,116.08 L433.00,115.72 L434.00,115.47 L435.00,115.72 L436.00,115.93 L437.00,115.33 L438.00,115.93 L439.00,116.12 L440.00,116.15 L441.00,116.17 L442.00,115.55 L443.00,116.10 L444.00,115.56 L445.00,115.42 L446.00,115.30 L447.00,115.47 L448.00,115.82 L449.00,115.64 L450.00,115.45 L451.00,115.56 L452.00,115.94 L453.00,115.51 L454.00,116.10 L455.00,115.92 L456.00,115.30 L457.00,115.78 L458.00,115.96 L459.00,115.49 L460.00,115.79 L461.00,116.20 L462.00,116.17 L463.00,115.97 L464.00,115.90 L465.00,115.36 L466.00,115.98 L467.00,115.43 L468.00,115.43 L469.00,115.83 L470.00,115.31 L471.00,115.51 L472.00,115.76 L473.00,115.96 L474.00,115.79 L475.00,115.39 L476.00,115.72 L477.00,116.03 L478.00,115.86 L479.00,115.77 L480.00,116.03 L481.00,115.68 L482.00,116.17 L483.00,115.46 L484.00,116.04 L485.00,116.11 L486.00,115.67 L487.00,115.92 L488.00,115.40 L489.00,115.75 L490.00,115.73 L491.00,115.45 L492.00,116.01 L493.00,115.53 L494.00,115.62 L495.00,115.81 L496.00,115.34 L497.00,116.18 L498.00,115.42 L499.00,116.07 L500.00,115.44 L501.00,116.06 L502.00,116.15 L503.00,115.75 L504.00,115.37 L505.00,115.97 L506.00,115.76 L507.00,115.65 L508.00,115.98 L509.00,115.72 L510.00,116.19 L511.00,115.80 L512.00,115.52 L513.00,115.89 L514.00,116.00 L515.00,116.15 L516.00,115.57 L517.00,115.82 L518.00,115.38 L519.00,115.53 L520.00,116.20 Z" fill="#0c0c0c"/>
<path d="M262.55,116.20 L262.55,114.40 L263.00,114.00 L263.45,114.40 L263.45,116.20 Z M303.05,116.20 L303.05,114.60 L303.50,114.20 L303.95,114.60 L303.95,116.20 Z M334.55,116.20 L334.55,114.90 L335.00,114.50 L335.45,114.90 L335.45,116.20 Z M360.20,116.20 L360.20,113.80 L361.00,113.40 L361.80,113.80 L361.80,116.20 Z M372.05,116.20 L372.05,109.40 L372.50,109.00 L372.95,109.40 L372.95,116.20 Z M402.90,116.20 L402.90,108.40 L403.50,108.00 L404.10,108.40 L404.10,116.20 Z M415.70,116.20 L415.70,114.40 L416.30,114.00 L416.90,114.40 L416.90,116.20 Z M420.60,116.20 L420.60,114.20 L421.20,113.80 L421.80,114.20 L421.80,116.20 Z M473.20,116.20 L473.20,112.80 L474.00,112.40 L474.80,112.80 L474.80,116.20 Z M485.85,116.20 L485.85,98.90 L486.30,98.50 L486.75,98.90 L486.75,116.20 Z M508.10,116.20 L508.10,111.00 L508.60,110.60 L509.10,111.00 L509.10,116.20 Z M510.10,116.20 L510.10,113.00 L510.60,112.60 L511.10,113.00 L511.10,116.20 Z M495.25,116.20 L495.25,115.00 L496.00,114.60 L496.75,115.00 L496.75,116.20 Z M459.25,116.20 L459.25,115.20 L460.00,114.80 L460.75,115.20 L460.75,116.20 Z" fill="#0c0c0c"/>
<path d="M441.10,116.20 L441.10,109.40 L442.10,109.00 L443.10,109.40 L443.10,116.20 Z" fill="#2a2a2a"/>
<path d="M443.20,116.20 L443.20,113.90 L444.00,113.50 L444.80,113.90 L444.80,116.20 Z M404.50,116.20 L404.50,113.80 L405.20,113.40 L405.90,113.80 L405.90,116.20 Z M373.40,116.20 L373.40,114.40 L374.00,114.00 L374.60,114.40 L374.60,116.20 Z" fill="#0c0c0c"/>
<line x1="243.20" y1="27.80" x2="243.20" y2="116.20" stroke="#858585" stroke-width="1.0" />
<line x1="238.00" y1="63.10" x2="520.00" y2="63.10" stroke="#262626" stroke-width="1.0" />
<line x1="238.00" y1="89.40" x2="520.00" y2="89.40" stroke="#262626" stroke-width="1.0" />
<line x1="238.00" y1="116.20" x2="520.00" y2="116.20" stroke="#262626" stroke-width="1.0" />
<line x1="238.60" y1="45.60" x2="242.90" y2="45.60" stroke="#6e6e6e" stroke-width="0.8" />
<line x1="238.60" y1="72.20" x2="242.90" y2="72.20" stroke="#6e6e6e" stroke-width="0.8" />
<line x1="238.60" y1="98.60" x2="242.90" y2="98.60" stroke="#6e6e6e" stroke-width="0.8" />
<text transform="translate(226.10,48.15) scale(1.07,1)" font-size="8.5" text-anchor="middle" fill="#1c1c1c" stroke="#1c1c1c" stroke-width="0.28" >25</text>
<text transform="translate(235.70,61.85) scale(1.07,1)" font-size="8.5" text-anchor="middle" fill="#1c1c1c" stroke="#1c1c1c" stroke-width="0.28" >0</text>
<text transform="translate(225.50,75.05) scale(1.07,1)" font-size="8.5" text-anchor="middle" fill="#1c1c1c" stroke="#1c1c1c" stroke-width="0.28" >150</text>
<text transform="translate(235.70,88.15) scale(1.07,1)" font-size="8.5" text-anchor="middle" fill="#8c8c8c" stroke="#8c8c8c" stroke-width="0.28" >0</text>
<text transform="translate(226.10,101.25) scale(1.07,1)" font-size="8.5" text-anchor="middle" fill="#1c1c1c" stroke="#1c1c1c" stroke-width="0.28" >65</text>
<text transform="translate(235.70,115.15) scale(1.07,1)" font-size="8.5" text-anchor="middle" fill="#1c1c1c" stroke="#1c1c1c" stroke-width="0.28" >0</text>
<text transform="translate(272.10,51.00) scale(1.09,1)" font-size="10.9" text-anchor="middle" fill="#1c1c1c" stroke="#1c1c1c" stroke-width="0.28" >H3K27ac</text>
<text transform="translate(271.90,77.40) scale(1.09,1)" font-size="10.9" text-anchor="middle" fill="#1c1c1c" stroke="#1c1c1c" stroke-width="0.28" >BATF3</text>
<text transform="translate(272.00,104.00) scale(1.09,1)" font-size="10.9" text-anchor="middle" fill="#1c1c1c" stroke="#1c1c1c" stroke-width="0.28" >IRF8</text>
<text x="331.60" y="129.20" font-size="10.2" text-anchor="end" fill="#1c1c1c" stroke="#1c1c1c" stroke-width="0.28" >100 kb</text>
<line x1="335.20" y1="126.20" x2="428.30" y2="126.20" stroke="#2a2a2a" stroke-width="0.8" />
<line x1="335.20" y1="121.60" x2="335.20" y2="130.80" stroke="#2a2a2a" stroke-width="0.8" />
<line x1="428.30" y1="121.60" x2="428.30" y2="130.80" stroke="#2a2a2a" stroke-width="0.8" />
<text x="432.90" y="129.20" font-size="10.2" text-anchor="start" fill="#1c1c1c" stroke="#1c1c1c" stroke-width="0.28" >mm10</text>
<text x="252.10" y="162.00" font-size="10.1" text-anchor="start" fill="#1c1c1c" stroke="#1c1c1c" stroke-width="0.28" >Gcsam</text>
<line x1="287.80" y1="159.40" x2="424.00" y2="159.40" stroke="#1a1a1a" stroke-width="0.9" />
<path d="M288.64,157.80 L290.48,159.40 L288.64,161.00 M292.14,157.80 L293.98,159.40 L292.14,161.00 M295.64,157.80 L297.48,159.40 L295.64,161.00 M299.14,157.80 L300.98,159.40 L299.14,161.00 M302.64,157.80 L304.48,159.40 L302.64,161.00 M306.14,157.80 L307.98,159.40 L306.14,161.00 M309.64,157.80 L311.48,159.40 L309.64,161.00 M313.14,157.80 L314.98,159.40 L313.14,161.00 M316.64,157.80 L318.48,159.40 L316.64,161.00 M320.14,157.80 L321.98,159.40 L320.14,161.00 M323.64,157.80 L325.48,159.40 L323.64,161.00 M327.14,157.80 L328.98,159.40 L327.14,161.00 M330.64,157.80 L332.48,159.40 L330.64,161.00 M334.14,157.80 L335.98,159.40 L334.14,161.00 M337.64,157.80 L339.48,159.40 L337.64,161.00 M341.14,157.80 L342.98,159.40 L341.14,161.00 M344.64,157.80 L346.48,159.40 L344.64,161.00 M348.14,157.80 L349.98,159.40 L348.14,161.00 M351.64,157.80 L353.48,159.40 L351.64,161.00 M355.14,157.80 L356.98,159.40 L355.14,161.00 M358.64,157.80 L360.48,159.40 L358.64,161.00 M362.14,157.80 L363.98,159.40 L362.14,161.00 M365.64,157.80 L367.48,159.40 L365.64,161.00 M369.14,157.80 L370.98,159.40 L369.14,161.00 M372.64,157.80 L374.48,159.40 L372.64,161.00 M376.14,157.80 L377.98,159.40 L376.14,161.00 M379.64,157.80 L381.48,159.40 L379.64,161.00 M383.14,157.80 L384.98,159.40 L383.14,161.00 M386.64,157.80 L388.48,159.40 L386.64,161.00 M390.14,157.80 L391.98,159.40 L390.14,161.00 M393.64,157.80 L395.48,159.40 L393.64,161.00 M397.14,157.80 L398.98,159.40 L397.14,161.00 M400.64,157.80 L402.48,159.40 L400.64,161.00 M404.14,157.80 L405.98,159.40 L404.14,161.00 M407.64,157.80 L409.48,159.40 L407.64,161.00 M411.14,157.80 L412.98,159.40 L411.14,161.00 M414.64,157.80 L416.48,159.40 L414.64,161.00 M418.14,157.80 L419.98,159.40 L418.14,161.00" fill="#1a1a1a" fill-opacity="0.55" stroke="#1a1a1a" stroke-width="1.0" stroke-linejoin="miter"/>
<line x1="288.00" y1="155.70" x2="288.00" y2="163.10" stroke="#222" stroke-width="1.6" />
<line x1="325.00" y1="155.70" x2="325.00" y2="163.10" stroke="#222" stroke-width="0.95" />
<line x1="367.50" y1="155.70" x2="367.50" y2="163.10" stroke="#222" stroke-width="0.95" />
<line x1="381.30" y1="155.70" x2="381.30" y2="163.10" stroke="#222" stroke-width="0.6" />
<line x1="408.80" y1="155.70" x2="408.80" y2="163.10" stroke="#222" stroke-width="0.5" />
<rect x="423.6" y="155.6" width="4.3" height="8.0" fill="#0c0c0c"/>
<rect x="427.0" y="157.3" width="40.1" height="4.6" fill="#0c0c0c"/>
<path d="M252.69,187.30 L252.69,186.89 L254.39,185.19 L255.87,183.93 L257.56,185.19 L259.04,184.35 L261.16,182.87 L262.85,184.35 L264.12,183.08 L265.39,181.18 L266.87,183.50 L268.14,182.66 L269.62,182.66 L271.10,184.35 L272.58,183.08 L273.85,182.66 L275.33,184.35 L277.23,182.66 L279.14,180.12 L280.62,182.23 L281.89,180.12 L283.37,178.00 L284.64,180.96 L285.69,181.81 L286.75,178.43 L287.81,175.89 L288.87,178.43 L289.93,180.12 L290.98,177.58 L292.46,176.31 L293.31,175.89 L294.16,173.98 L295.00,176.31 L296.06,180.12 L296.91,178.00 L297.75,175.46 L298.60,178.43 L299.66,179.69 L300.72,175.89 L301.56,172.92 L302.41,170.60 L303.25,173.77 L304.10,176.73 L304.95,180.96 L305.79,184.35 L306.43,186.89 L306.43,187.30 Z" fill="#c4c4c4"/>
<path d="M311.29,187.30 L311.29,186.89 L312.14,182.23 L313.20,178.43 L314.04,176.52 L314.89,178.43 L315.74,181.39 L316.79,184.77 L317.85,183.93 L318.91,181.39 L319.97,178.43 L321.24,177.16 L322.29,180.12 L323.14,181.39 L324.20,178.43 L325.04,176.31 L325.68,175.04 L326.52,177.58 L327.37,178.85 L328.43,176.73 L329.06,175.89 L329.91,178.85 L330.76,180.12 L331.60,177.58 L332.45,177.16 L333.29,179.69 L334.14,180.12 L334.99,175.89 L335.62,173.98 L336.47,177.58 L337.10,178.85 L337.95,176.31 L338.79,173.77 L339.43,171.44 L340.28,174.62 L341.12,176.73 L341.97,179.69 L342.81,183.08 L343.66,186.89 L343.66,187.30 Z" fill="#c4c4c4"/>
<path d="M346.98,187.30 L346.98,186.46 L348.04,182.02 L349.31,179.91 L351.00,176.73 L352.69,172.50 L353.96,176.73 L355.23,178.43 L356.29,176.73 L357.98,175.67 L359.46,179.91 L360.73,178.85 L362.21,177.16 L363.69,182.02 L365.39,184.35 L367.08,184.77 L368.56,186.46 L368.56,187.30 Z" fill="#c4c4c4"/>
<path d="M373.43,187.30 L373.43,186.46 L374.48,180.96 L375.96,174.19 L377.23,178.85 L378.50,184.14 L379.35,186.46 L379.35,187.30 Z" fill="#c4c4c4"/>
<path d="M380.83,187.30 L380.83,186.46 L381.68,182.66 L382.52,181.60 L383.58,183.93 L384.64,183.50 L385.69,185.19 L386.33,186.46 L386.33,187.30 Z" fill="#c4c4c4"/>
<path d="M390.98,187.30 L390.98,186.46 L392.04,182.23 L393.10,180.96 L394.37,183.50 L395.85,182.23 L397.12,184.35 L398.39,183.71 L399.87,186.46 L399.87,187.30 Z" fill="#c4c4c4"/>
<path d="M400.93,187.30 L400.93,186.46 L402.41,184.77 L404.52,185.19 L406.64,184.98 L408.75,184.77 L410.87,186.46 L410.87,187.30 Z" fill="#c4c4c4"/>
<path d="M414.68,187.30 L414.68,186.46 L415.74,184.14 L416.79,184.35 L417.64,186.46 L417.64,187.30 Z" fill="#c4c4c4"/>
<path d="M418.91,187.30 L418.91,186.46 L419.97,184.14 L421.66,183.50 L423.14,184.35 L424.62,183.08 L425.89,183.93 L427.16,182.23 L428.43,183.93 L429.27,186.46 L429.27,187.30 Z" fill="#c4c4c4"/>
<path d="M415.29,187.30 L415.29,187.31 L416.77,185.19 L418.46,185.62 L420.58,184.35 L422.69,183.93 L424.81,184.35 L426.92,182.66 L429.04,184.35 L430.31,187.31 L430.31,187.30 Z" fill="#c4c4c4"/>
<path d="M432.85,187.30 L432.85,187.31 L433.69,185.62 L434.54,187.31 L434.54,187.30 Z" fill="#c4c4c4"/>
<path d="M463.52,187.30 L463.52,187.31 L465.00,184.77 L466.70,185.19 L469.23,183.93 L471.35,185.19 L473.47,184.35 L476.00,184.77 L478.12,184.35 L480.23,183.50 L481.93,187.31 L481.93,187.30 Z" fill="#c4c4c4"/>
<path d="M488.70,187.30 L488.70,187.31 L490.39,184.35 L492.08,183.08 L493.77,184.77 L495.04,187.31 L495.04,187.30 Z" fill="#c4c4c4"/>
<path d="M497.16,187.30 L497.16,187.31 L498.85,183.93 L500.54,182.66 L502.24,184.35 L503.93,187.31 L503.93,187.30 Z" fill="#c4c4c4"/>
<path d="M244.00,187.30 L244.00,187.17 L245.00,186.75 L246.00,186.79 L247.00,186.92 L248.00,187.13 L249.00,186.67 L250.00,186.65 L251.00,186.89 L252.00,186.90 L253.00,187.11 L254.00,187.30 L255.00,187.00 L256.00,186.83 L257.00,187.24 L258.00,186.66 L259.00,187.11 L260.00,187.11 L261.00,187.27 L262.00,186.50 L263.00,186.71 L264.00,186.60 L265.00,186.81 L266.00,187.27 L267.00,187.04 L268.00,186.90 L269.00,187.21 L270.00,186.54 L271.00,187.01 L272.00,187.18 L273.00,186.65 L274.00,187.20 L275.00,186.56 L276.00,186.94 L277.00,186.86 L278.00,187.03 L279.00,186.91 L280.00,187.15 L281.00,187.27 L282.00,186.61 L283.00,187.11 L284.00,186.68 L285.00,187.13 L286.00,186.52 L287.00,186.58 L288.00,186.70 L289.00,186.69 L290.00,186.84 L291.00,186.72 L292.00,187.20 L293.00,186.92 L294.00,186.64 L295.00,187.14 L296.00,186.56 L297.00,186.59 L298.00,186.97 L299.00,187.01 L300.00,186.94 L301.00,186.99 L302.00,186.50 L303.00,186.99 L304.00,187.28 L305.00,187.23 L306.00,186.73 L307.00,186.51 L308.00,186.90 L309.00,186.91 L310.00,186.86 L311.00,186.70 L312.00,187.12 L313.00,186.81 L314.00,186.85 L315.00,186.80 L316.00,187.16 L317.00,187.16 L318.00,187.02 L319.00,186.56 L320.00,187.02 L321.00,186.82 L322.00,187.05 L323.00,187.22 L324.00,187.25 L325.00,186.65 L326.00,186.68 L327.00,187.00 L328.00,186.75 L329.00,186.76 L330.00,186.58 L331.00,186.53 L332.00,186.97 L333.00,186.51 L334.00,186.53 L335.00,186.83 L336.00,186.59 L337.00,186.91 L338.00,187.00 L339.00,187.10 L340.00,186.60 L341.00,187.17 L342.00,187.24 L343.00,186.66 L344.00,186.68 L345.00,186.91 L346.00,186.63 L347.00,187.26 L348.00,187.09 L349.00,187.07 L350.00,186.96 L351.00,187.16 L352.00,187.24 L353.00,187.03 L354.00,186.58 L355.00,186.51 L356.00,186.70 L357.00,186.92 L358.00,187.10 L359.00,186.53 L360.00,186.88 L361.00,186.72 L362.00,187.28 L363.00,187.13 L364.00,186.63 L365.00,186.66 L366.00,186.59 L367.00,186.82 L368.00,186.96 L369.00,186.84 L370.00,186.62 L371.00,187.05 L372.00,186.87 L373.00,187.08 L374.00,186.69 L375.00,187.29 L376.00,186.75 L377.00,186.54 L378.00,187.28 L379.00,186.83 L380.00,186.78 L381.00,186.62 L382.00,186.83 L383.00,187.09 L384.00,186.98 L385.00,186.53 L386.00,186.58 L387.00,187.19 L388.00,187.22 L389.00,187.22 L390.00,187.28 L391.00,186.94 L392.00,187.19 L393.00,186.61 L394.00,186.78 L395.00,187.20 L396.00,186.87 L397.00,187.04 L398.00,186.90 L399.00,187.12 L400.00,187.17 L401.00,187.15 L402.00,187.00 L403.00,186.73 L404.00,186.86 L405.00,187.26 L406.00,186.73 L407.00,186.60 L408.00,186.68 L409.00,186.67 L410.00,187.29 L411.00,186.93 L412.00,187.25 L413.00,186.69 L414.00,187.16 L415.00,186.73 L416.00,187.10 L417.00,186.74 L418.00,187.05 L419.00,187.27 L420.00,186.99 L421.00,187.05 L422.00,186.58 L423.00,187.06 L424.00,186.90 L425.00,186.86 L426.00,186.54 L427.00,187.22 L428.00,186.82 L429.00,186.89 L430.00,186.71 L431.00,186.53 L432.00,187.05 L433.00,186.74 L434.00,186.88 L435.00,186.85 L436.00,187.25 L437.00,186.65 L438.00,186.52 L439.00,187.02 L440.00,187.05 L441.00,186.51 L442.00,187.21 L443.00,187.24 L444.00,187.24 L445.00,186.65 L446.00,186.69 L447.00,186.94 L448.00,186.80 L449.00,187.28 L450.00,186.78 L451.00,186.95 L452.00,186.89 L453.00,186.99 L454.00,186.98 L455.00,187.12 L456.00,187.26 L457.00,186.95 L458.00,187.10 L459.00,186.74 L460.00,186.65 L461.00,186.72 L462.00,186.94 L463.00,187.11 L464.00,186.99 L465.00,186.91 L466.00,186.79 L467.00,186.53 L468.00,187.23 L469.00,186.92 L470.00,186.91 L471.00,186.73 L472.00,186.59 L473.00,186.68 L474.00,186.80 L475.00,186.69 L476.00,186.77 L477.00,186.61 L478.00,186.74 L479.00,186.75 L480.00,187.10 L481.00,186.57 L482.00,186.99 L483.00,186.81 L484.00,186.64 L485.00,186.53 L486.00,186.51 L487.00,187.29 L488.00,187.05 L489.00,187.05 L490.00,186.99 L491.00,187.18 L492.00,186.86 L493.00,187.24 L494.00,187.06 L495.00,186.55 L496.00,186.71 L497.00,186.93 L498.00,187.21 L499.00,186.54 L500.00,186.74 L501.00,187.14 L502.00,187.03 L503.00,186.79 L504.00,186.75 L505.00,187.09 L506.00,186.54 L507.00,187.04 L508.00,187.10 L509.00,186.62 L510.00,187.18 L511.00,186.76 L512.00,187.14 L513.00,186.82 L514.00,187.08 L515.00,187.00 L516.00,186.55 L517.00,186.93 L518.00,186.95 L519.00,186.81 L520.00,187.30 Z" fill="#c4c4c4"/>
<path d="M340.70,213.40 L340.70,213.29 L341.05,213.16 L341.40,212.90 L341.75,212.41 L342.10,211.59 L342.45,210.32 L342.80,208.51 L343.15,206.16 L343.50,203.44 L343.85,200.62 L344.20,198.13 L344.55,196.41 L344.90,195.80 L345.25,196.41 L345.60,198.13 L345.95,200.62 L346.30,203.44 L346.65,206.16 L347.00,208.51 L347.35,210.32 L347.70,211.59 L348.05,212.41 L348.40,212.90 L348.75,213.16 L349.10,213.29 L349.10,213.40 Z" fill="#5c5c5c"/>
<path d="M366.60,213.40 L366.60,213.40 L367.60,211.60 L368.60,208.00 L369.60,206.00 L372.10,206.00 L373.10,208.00 L374.00,211.60 L375.00,213.40 L375.00,213.40 Z" fill="#707070"/>
<path d="M285.00,213.40 L285.00,213.39 L285.17,213.38 L285.33,213.36 L285.50,213.32 L285.67,213.26 L285.83,213.15 L286.00,213.01 L286.17,212.82 L286.33,212.61 L286.50,212.38 L286.67,212.19 L286.83,212.05 L287.00,212.00 L287.17,212.05 L287.33,212.19 L287.50,212.38 L287.67,212.61 L287.83,212.82 L288.00,213.01 L288.17,213.15 L288.33,213.26 L288.50,213.32 L288.67,213.36 L288.83,213.38 L289.00,213.39 L289.00,213.40 Z M473.40,213.40 L473.40,213.39 L473.57,213.38 L473.73,213.37 L473.90,213.33 L474.07,213.28 L474.23,213.19 L474.40,213.07 L474.57,212.91 L474.73,212.72 L474.90,212.53 L475.07,212.36 L475.23,212.24 L475.40,212.20 L475.57,212.24 L475.73,212.36 L475.90,212.53 L476.07,212.72 L476.23,212.91 L476.40,213.07 L476.57,213.19 L476.73,213.28 L476.90,213.33 L477.07,213.37 L477.23,213.38 L477.40,213.39 L477.40,213.40 Z" fill="#4a4a4a"/>
<path d="M340.90,239.40 L340.90,239.30 L341.23,239.18 L341.55,238.94 L341.88,238.49 L342.20,237.74 L342.53,236.56 L342.85,234.90 L343.18,232.74 L343.50,230.23 L343.82,227.64 L344.15,225.35 L344.48,223.77 L344.80,223.20 L345.12,223.77 L345.45,225.35 L345.78,227.64 L346.10,230.23 L346.43,232.74 L346.75,234.90 L347.07,236.56 L347.40,237.74 L347.73,238.49 L348.05,238.94 L348.38,239.18 L348.70,239.30 L348.70,239.40 Z M367.40,239.40 L367.40,239.30 L367.73,239.17 L368.07,238.91 L368.40,238.43 L368.73,237.63 L369.07,236.39 L369.40,234.62 L369.73,232.33 L370.07,229.66 L370.40,226.91 L370.73,224.48 L371.07,222.80 L371.40,222.20 L371.73,222.80 L372.07,224.48 L372.40,226.91 L372.73,229.66 L373.07,232.33 L373.40,234.62 L373.73,236.39 L374.07,237.63 L374.40,238.43 L374.73,238.91 L375.07,239.17 L375.40,239.30 L375.40,239.40 Z M365.00,239.40 L365.00,239.38 L365.29,239.36 L365.58,239.32 L365.88,239.24 L366.17,239.10 L366.46,238.89 L366.75,238.59 L367.04,238.21 L367.33,237.76 L367.62,237.29 L367.92,236.88 L368.21,236.60 L368.50,236.50 L368.79,236.60 L369.08,236.88 L369.38,237.29 L369.67,237.76 L369.96,238.21 L370.25,238.59 L370.54,238.89 L370.83,239.10 L371.12,239.24 L371.42,239.32 L371.71,239.36 L372.00,239.38 L372.00,239.40 Z M371.00,239.40 L371.00,239.38 L371.29,239.36 L371.58,239.33 L371.88,239.25 L372.17,239.13 L372.46,238.94 L372.75,238.68 L373.04,238.33 L373.33,237.93 L373.62,237.51 L373.92,237.14 L374.21,236.89 L374.50,236.80 L374.79,236.89 L375.08,237.14 L375.38,237.51 L375.67,237.93 L375.96,238.33 L376.25,238.68 L376.54,238.94 L376.83,239.13 L377.12,239.25 L377.42,239.33 L377.71,239.36 L378.00,239.38 L378.00,239.40 Z M284.40,239.40 L284.40,239.37 L284.62,239.33 L284.83,239.26 L285.05,239.12 L285.27,238.89 L285.48,238.52 L285.70,238.01 L285.92,237.34 L286.13,236.57 L286.35,235.77 L286.57,235.06 L286.78,234.57 L287.00,234.40 L287.22,234.57 L287.43,235.06 L287.65,235.77 L287.87,236.57 L288.08,237.34 L288.30,238.01 L288.52,238.52 L288.73,238.89 L288.95,239.12 L289.17,239.26 L289.38,239.33 L289.60,239.37 L289.60,239.40 Z M422.80,239.40 L422.80,239.37 L423.00,239.34 L423.20,239.27 L423.40,239.15 L423.60,238.95 L423.80,238.63 L424.00,238.18 L424.20,237.59 L424.40,236.91 L424.60,236.20 L424.80,235.58 L425.00,235.15 L425.20,235.00 L425.40,235.15 L425.60,235.58 L425.80,236.20 L426.00,236.91 L426.20,237.59 L426.40,238.18 L426.60,238.63 L426.80,238.95 L427.00,239.15 L427.20,239.27 L427.40,239.34 L427.60,239.37 L427.60,239.40 Z M471.60,239.40 L471.60,239.38 L471.92,239.36 L472.23,239.31 L472.55,239.23 L472.87,239.09 L473.18,238.87 L473.50,238.57 L473.82,238.17 L474.13,237.70 L474.45,237.22 L474.77,236.80 L475.08,236.50 L475.40,236.40 L475.72,236.50 L476.03,236.80 L476.35,237.22 L476.67,237.70 L476.98,238.17 L477.30,238.57 L477.62,238.87 L477.93,239.09 L478.25,239.23 L478.57,239.31 L478.88,239.36 L479.20,239.38 L479.20,239.40 Z M357.20,239.40 L357.20,239.39 L357.41,239.38 L357.62,239.35 L357.82,239.31 L358.03,239.24 L358.24,239.12 L358.45,238.96 L358.66,238.74 L358.87,238.49 L359.07,238.24 L359.28,238.01 L359.49,237.86 L359.70,237.80 L359.91,237.86 L360.12,238.01 L360.32,238.24 L360.53,238.49 L360.74,238.74 L360.95,238.96 L361.16,239.12 L361.37,239.24 L361.57,239.31 L361.78,239.35 L361.99,239.38 L362.20,239.39 L362.20,239.40 Z M330.50,239.40 L330.50,239.39 L330.71,239.38 L330.92,239.37 L331.12,239.33 L331.33,239.28 L331.54,239.19 L331.75,239.07 L331.96,238.91 L332.17,238.72 L332.38,238.53 L332.58,238.36 L332.79,238.24 L333.00,238.20 L333.21,238.24 L333.42,238.36 L333.62,238.53 L333.83,238.72 L334.04,238.91 L334.25,239.07 L334.46,239.19 L334.67,239.28 L334.88,239.33 L335.08,239.37 L335.29,239.38 L335.50,239.39 L335.50,239.40 Z" fill="#0c0c0c"/>
<path d="M244.00,239.40 L244.00,238.80 L253.00,238.70 L256.00,238.00 L259.00,238.70 L263.00,238.60 L265.00,238.00 L267.00,238.70 L270.00,238.50 L273.00,237.80 L275.00,238.60 L280.00,238.50 L283.00,237.60 L285.00,238.60 L293.00,238.60 L295.20,237.20 L297.50,238.60 L302.00,238.50 L304.50,237.80 L307.00,238.60 L317.00,238.60 L319.00,237.90 L321.00,238.70 L329.00,238.60 L331.00,238.00 L333.00,238.70 L396.00,238.80 L398.80,238.00 L401.00,238.80 L430.00,238.80 L432.50,238.00 L435.00,238.80 L466.00,238.80 L468.90,238.00 L471.00,238.60 L495.00,238.80 L497.00,238.10 L499.00,238.80 L515.00,238.80 L517.00,238.20 L519.00,238.80 L520.00,238.80 L520.00,239.40 Z" fill="#0c0c0c"/>
<line x1="243.20" y1="162.40" x2="243.20" y2="239.40" stroke="#858585" stroke-width="1.0" />
<line x1="236.70" y1="187.30" x2="520.00" y2="187.30" stroke="#262626" stroke-width="1.0" />
<line x1="236.70" y1="213.40" x2="520.00" y2="213.40" stroke="#262626" stroke-width="1.0" />
<line x1="238.00" y1="239.40" x2="520.00" y2="239.40" stroke="#262626" stroke-width="1.0" />
<line x1="238.60" y1="168.80" x2="242.90" y2="168.80" stroke="#6e6e6e" stroke-width="0.8" />
<line x1="238.60" y1="195.90" x2="242.90" y2="195.90" stroke="#6e6e6e" stroke-width="0.8" />
<line x1="238.60" y1="222.20" x2="242.90" y2="222.20" stroke="#6e6e6e" stroke-width="0.8" />
<text transform="translate(228.00,172.25) scale(1.07,1)" font-size="8.5" text-anchor="middle" fill="#1c1c1c" stroke="#1c1c1c" stroke-width="0.28" >25</text>
<text transform="translate(232.50,190.85) scale(1.07,1)" font-size="8.5" text-anchor="middle" fill="#1c1c1c" stroke="#1c1c1c" stroke-width="0.28" >0</text>
<text transform="translate(224.00,199.75) scale(1.07,1)" font-size="8.5" text-anchor="middle" fill="#1c1c1c" stroke="#1c1c1c" stroke-width="0.28" >160</text>
<text transform="translate(234.60,212.55) scale(1.07,1)" font-size="8.5" text-anchor="middle" fill="#1c1c1c" stroke="#1c1c1c" stroke-width="0.28" >0</text>
<text transform="translate(228.00,225.25) scale(1.07,1)" font-size="8.5" text-anchor="middle" fill="#1c1c1c" stroke="#1c1c1c" stroke-width="0.28" >33</text>
<text transform="translate(234.60,238.45) scale(1.07,1)" font-size="8.5" text-anchor="middle" fill="#1c1c1c" stroke="#1c1c1c" stroke-width="0.28" >0</text>
<text transform="translate(270.50,176.00) scale(1.09,1)" font-size="10.9" text-anchor="middle" fill="#1c1c1c" stroke="#1c1c1c" stroke-width="0.28" >H3K27ac</text>
<text transform="translate(270.70,201.00) scale(1.09,1)" font-size="10.9" text-anchor="middle" fill="#1c1c1c" stroke="#1c1c1c" stroke-width="0.28" >BATF3</text>
<text transform="translate(270.40,227.80) scale(1.09,1)" font-size="10.9" text-anchor="middle" fill="#1c1c1c" stroke="#1c1c1c" stroke-width="0.28" >IRF8</text>
<text x="341.80" y="251.80" font-size="10.2" text-anchor="end" fill="#1c1c1c" stroke="#1c1c1c" stroke-width="0.28" >5 kb</text>
<line x1="345.40" y1="248.80" x2="417.20" y2="248.80" stroke="#2a2a2a" stroke-width="0.8" />
<line x1="345.40" y1="244.20" x2="345.40" y2="253.40" stroke="#2a2a2a" stroke-width="0.8" />
<line x1="417.20" y1="244.20" x2="417.20" y2="253.40" stroke="#2a2a2a" stroke-width="0.8" />
<text x="421.50" y="251.80" font-size="10.2" text-anchor="start" fill="#1c1c1c" stroke="#1c1c1c" stroke-width="0.28" >mm10</text>
<text x="275.80" y="273.30" font-size="10.0" text-anchor="start" fill="#1c1c1c" stroke="#1c1c1c" stroke-width="0.28" >Itga8</text>
<line x1="304.60" y1="271.50" x2="433.80" y2="271.50" stroke="#1a1a1a" stroke-width="0.9" />
<path d="M308.16,269.90 L306.32,271.50 L308.16,273.10 M311.36,269.90 L309.52,271.50 L311.36,273.10 M314.56,269.90 L312.72,271.50 L314.56,273.10 M317.76,269.90 L315.92,271.50 L317.76,273.10 M320.96,269.90 L319.12,271.50 L320.96,273.10 M324.16,269.90 L322.32,271.50 L324.16,273.10 M327.36,269.90 L325.52,271.50 L327.36,273.10 M330.56,269.90 L328.72,271.50 L330.56,273.10 M333.76,269.90 L331.92,271.50 L333.76,273.10 M336.96,269.90 L335.12,271.50 L336.96,273.10 M340.16,269.90 L338.32,271.50 L340.16,273.10 M343.36,269.90 L341.52,271.50 L343.36,273.10 M346.56,269.90 L344.72,271.50 L346.56,273.10 M349.76,269.90 L347.92,271.50 L349.76,273.10 M352.96,269.90 L351.12,271.50 L352.96,273.10 M356.16,269.90 L354.32,271.50 L356.16,273.10 M359.36,269.90 L357.52,271.50 L359.36,273.10 M362.56,269.90 L360.72,271.50 L362.56,273.10 M365.76,269.90 L363.92,271.50 L365.76,273.10 M368.96,269.90 L367.12,271.50 L368.96,273.10 M372.16,269.90 L370.32,271.50 L372.16,273.10 M375.36,269.90 L373.52,271.50 L375.36,273.10 M378.56,269.90 L376.72,271.50 L378.56,273.10 M381.76,269.90 L379.92,271.50 L381.76,273.10 M384.96,269.90 L383.12,271.50 L384.96,273.10 M388.16,269.90 L386.32,271.50 L388.16,273.10 M391.36,269.90 L389.52,271.50 L391.36,273.10 M394.56,269.90 L392.72,271.50 L394.56,273.10 M397.76,269.90 L395.92,271.50 L397.76,273.10 M400.96,269.90 L399.12,271.50 L400.96,273.10 M404.16,269.90 L402.32,271.50 L404.16,273.10 M407.36,269.90 L405.52,271.50 L407.36,273.10 M410.56,269.90 L408.72,271.50 L410.56,273.10 M413.76,269.90 L411.92,271.50 L413.76,273.10 M416.96,269.90 L415.12,271.50 L416.96,273.10 M420.16,269.90 L418.32,271.50 L420.16,273.10 M423.36,269.90 L421.52,271.50 L423.36,273.10 M426.56,269.90 L424.72,271.50 L426.56,273.10 M429.76,269.90 L427.92,271.50 L429.76,273.10" fill="#1a1a1a" fill-opacity="0.55" stroke="#1a1a1a" stroke-width="1.0" stroke-linejoin="miter"/>
<line x1="305.40" y1="267.80" x2="305.40" y2="275.20" stroke="#222" stroke-width="1.6" />
<line x1="313.50" y1="267.80" x2="313.50" y2="275.20" stroke="#222" stroke-width="0.95" />
<line x1="321.90" y1="267.80" x2="321.90" y2="275.20" stroke="#222" stroke-width="0.95" />
<line x1="327.30" y1="267.80" x2="327.30" y2="275.20" stroke="#222" stroke-width="0.95" />
<line x1="337.30" y1="267.80" x2="337.30" y2="275.20" stroke="#222" stroke-width="0.95" />
<line x1="340.40" y1="267.80" x2="340.40" y2="275.20" stroke="#222" stroke-width="0.95" />
<line x1="350.40" y1="267.80" x2="350.40" y2="275.20" stroke="#222" stroke-width="0.95" />
<line x1="352.70" y1="267.80" x2="352.70" y2="275.20" stroke="#222" stroke-width="0.95" />
<line x1="355.80" y1="267.80" x2="355.80" y2="275.20" stroke="#222" stroke-width="0.95" />
<line x1="361.20" y1="267.80" x2="361.20" y2="275.20" stroke="#222" stroke-width="1.3" />
<line x1="362.70" y1="267.80" x2="362.70" y2="275.20" stroke="#222" stroke-width="1.3" />
<line x1="366.50" y1="267.80" x2="366.50" y2="275.20" stroke="#222" stroke-width="0.95" />
<line x1="368.80" y1="267.80" x2="368.80" y2="275.20" stroke="#222" stroke-width="0.95" />
<line x1="370.80" y1="267.80" x2="370.80" y2="275.20" stroke="#222" stroke-width="0.95" />
<line x1="386.20" y1="267.80" x2="386.20" y2="275.20" stroke="#222" stroke-width="0.95" />
<line x1="389.20" y1="267.80" x2="389.20" y2="275.20" stroke="#222" stroke-width="0.95" />
<line x1="394.50" y1="267.80" x2="394.50" y2="275.20" stroke="#222" stroke-width="0.95" />
<line x1="396.90" y1="267.80" x2="396.90" y2="275.20" stroke="#222" stroke-width="0.95" />
<line x1="399.40" y1="267.80" x2="399.40" y2="275.20" stroke="#222" stroke-width="0.95" />
<line x1="401.50" y1="267.80" x2="401.50" y2="275.20" stroke="#222" stroke-width="0.95" />
<line x1="404.60" y1="267.80" x2="404.60" y2="275.20" stroke="#222" stroke-width="0.95" />
<line x1="407.70" y1="267.80" x2="407.70" y2="275.20" stroke="#222" stroke-width="0.95" />
<line x1="410.80" y1="267.80" x2="410.80" y2="275.20" stroke="#222" stroke-width="0.95" />
<line x1="433.80" y1="267.80" x2="433.80" y2="275.20" stroke="#222" stroke-width="0.95" />
<text x="427.70" y="282.80" font-size="10.0" text-anchor="start" fill="#1c1c1c" stroke="#1c1c1c" stroke-width="0.28" >Mindy3</text>
<line x1="464.60" y1="280.20" x2="511.70" y2="280.20" stroke="#1a1a1a" stroke-width="0.9" />
<path d="M468.16,278.60 L466.32,280.20 L468.16,281.80 M471.46,278.60 L469.62,280.20 L471.46,281.80 M474.76,278.60 L472.92,280.20 L474.76,281.80 M478.06,278.60 L476.22,280.20 L478.06,281.80 M481.36,278.60 L479.52,280.20 L481.36,281.80 M484.66,278.60 L482.82,280.20 L484.66,281.80 M487.96,278.60 L486.12,280.20 L487.96,281.80 M491.26,278.60 L489.42,280.20 L491.26,281.80 M494.56,278.60 L492.72,280.20 L494.56,281.80 M497.86,278.60 L496.02,280.20 L497.86,281.80 M501.16,278.60 L499.32,280.20 L501.16,281.80 M504.46,278.60 L502.62,280.20 L504.46,281.80 M507.76,278.60 L505.92,280.20 L507.76,281.80" fill="#1a1a1a" fill-opacity="0.55" stroke="#1a1a1a" stroke-width="1.0" stroke-linejoin="miter"/>
<line x1="464.60" y1="276.50" x2="464.60" y2="283.90" stroke="#222" stroke-width="0.95" />
<line x1="466.80" y1="276.50" x2="466.80" y2="283.90" stroke="#222" stroke-width="0.95" />
<line x1="469.20" y1="276.50" x2="469.20" y2="283.90" stroke="#222" stroke-width="0.95" />
<line x1="475.40" y1="276.50" x2="475.40" y2="283.90" stroke="#222" stroke-width="0.95" />
<line x1="487.70" y1="276.50" x2="487.70" y2="283.90" stroke="#222" stroke-width="0.95" />
<line x1="490.80" y1="276.50" x2="490.80" y2="283.90" stroke="#222" stroke-width="0.95" />
<line x1="498.50" y1="276.50" x2="498.50" y2="283.90" stroke="#222" stroke-width="0.95" />
<line x1="500.90" y1="276.50" x2="500.90" y2="283.90" stroke="#222" stroke-width="0.95" />
<line x1="504.60" y1="276.50" x2="504.60" y2="283.90" stroke="#222" stroke-width="0.95" />
<line x1="511.70" y1="276.50" x2="511.70" y2="283.90" stroke="#222" stroke-width="0.95" />
<path d="M244.00,311.20 L244.00,311.19 L245.00,311.09 L246.00,310.81 L247.00,310.52 L248.00,311.06 L249.00,311.09 L250.00,310.97 L251.00,310.44 L252.00,311.05 L253.00,310.46 L254.00,310.54 L255.00,311.06 L256.00,310.66 L257.00,310.75 L258.00,310.79 L259.00,310.20 L260.00,311.11 L261.00,311.18 L262.00,310.26 L263.00,310.80 L264.00,311.00 L265.00,310.87 L266.00,310.84 L267.00,310.24 L268.00,310.99 L269.00,310.98 L270.00,310.62 L271.00,310.65 L272.00,310.25 L273.00,310.36 L274.00,310.84 L275.00,311.00 L276.00,310.36 L277.00,310.21 L278.00,311.17 L279.00,310.46 L280.00,310.33 L281.00,310.55 L282.00,310.98 L283.00,310.40 L284.00,310.47 L285.00,311.01 L286.00,310.56 L287.00,310.98 L288.00,311.16 L289.00,310.86 L290.00,310.87 L291.00,310.80 L292.00,310.55 L293.00,310.36 L294.00,310.24 L295.00,310.22 L296.00,310.21 L297.00,310.41 L298.00,310.89 L299.00,311.02 L300.00,310.58 L301.00,310.65 L302.00,310.53 L303.00,311.11 L304.00,311.01 L305.00,310.28 L306.00,310.60 L307.00,310.50 L308.00,311.10 L309.00,310.80 L310.00,310.29 L311.00,310.55 L312.00,310.21 L313.00,311.00 L314.00,310.75 L315.00,310.40 L316.00,310.76 L317.00,310.41 L318.00,310.64 L319.00,311.08 L320.00,311.10 L321.00,310.22 L322.00,311.08 L323.00,311.01 L324.00,310.86 L325.00,310.49 L326.00,310.35 L327.00,310.72 L328.00,310.70 L329.00,310.41 L330.00,310.92 L331.00,310.83 L332.00,310.59 L333.00,310.56 L334.00,311.16 L335.00,311.09 L336.00,311.06 L337.00,310.47 L338.00,310.51 L339.00,310.23 L340.00,310.43 L341.00,310.95 L342.00,310.43 L343.00,310.21 L344.00,310.85 L345.00,311.19 L346.00,310.82 L347.00,310.92 L348.00,311.02 L349.00,311.15 L350.00,311.08 L351.00,310.33 L352.00,311.15 L353.00,310.59 L354.00,310.99 L355.00,311.01 L356.00,310.38 L357.00,310.90 L358.00,311.02 L359.00,310.75 L360.00,310.51 L361.00,310.68 L362.00,310.34 L363.00,310.80 L364.00,310.68 L365.00,310.48 L366.00,310.74 L367.00,310.48 L368.00,310.73 L369.00,311.07 L370.00,311.08 L371.00,310.42 L372.00,310.46 L373.00,310.26 L374.00,310.51 L375.00,310.62 L376.00,311.03 L377.00,310.35 L378.00,311.08 L379.00,310.78 L380.00,311.06 L381.00,310.82 L382.00,310.89 L383.00,310.77 L384.00,310.49 L385.00,310.66 L386.00,310.96 L387.00,310.42 L388.00,310.46 L389.00,310.37 L390.00,311.17 L391.00,310.59 L392.00,310.30 L393.00,310.94 L394.00,311.00 L395.00,310.39 L396.00,310.84 L397.00,310.80 L398.00,310.38 L399.00,310.82 L400.00,311.00 L401.00,310.99 L402.00,310.85 L403.00,310.50 L404.00,310.83 L405.00,310.43 L406.00,311.13 L407.00,310.95 L408.00,310.58 L409.00,310.72 L410.00,310.70 L411.00,310.26 L412.00,310.92 L413.00,311.02 L414.00,311.17 L415.00,310.72 L416.00,310.90 L417.00,310.73 L418.00,311.19 L419.00,311.20 L420.00,310.82 L421.00,310.44 L422.00,310.90 L423.00,310.29 L424.00,310.62 L425.00,310.80 L426.00,310.42 L427.00,310.97 L428.00,310.59 L429.00,310.35 L430.00,310.66 L431.00,310.88 L432.00,311.10 L433.00,310.63 L434.00,311.01 L435.00,310.83 L436.00,310.66 L437.00,310.26 L438.00,310.53 L439.00,310.68 L440.00,310.34 L441.00,310.89 L442.00,310.81 L443.00,310.52 L444.00,310.65 L445.00,310.98 L446.00,310.79 L447.00,310.38 L448.00,310.96 L449.00,310.49 L450.00,311.15 L451.00,310.25 L452.00,310.52 L453.00,310.88 L454.00,310.22 L455.00,310.40 L456.00,311.14 L457.00,310.95 L458.00,310.71 L459.00,310.20 L460.00,311.06 L461.00,311.15 L462.00,310.89 L463.00,311.16 L464.00,310.79 L465.00,310.66 L466.00,310.76 L467.00,311.06 L468.00,311.18 L469.00,310.40 L470.00,310.76 L471.00,310.72 L472.00,310.72 L473.00,310.51 L474.00,310.30 L475.00,310.37 L476.00,310.47 L477.00,310.86 L478.00,311.03 L479.00,311.11 L480.00,310.34 L481.00,311.14 L482.00,310.63 L483.00,310.29 L484.00,310.88 L485.00,310.81 L486.00,310.78 L487.00,310.26 L488.00,310.52 L489.00,310.36 L490.00,311.16 L491.00,310.47 L492.00,310.75 L493.00,310.80 L494.00,310.38 L495.00,310.46 L496.00,310.29 L497.00,310.46 L498.00,310.29 L499.00,310.77 L500.00,310.64 L501.00,310.42 L502.00,310.75 L503.00,311.06 L504.00,310.61 L505.00,310.33 L506.00,310.33 L507.00,311.07 L508.00,310.82 L509.00,310.97 L510.00,310.86 L511.00,310.24 L512.00,310.78 L513.00,310.89 L514.00,310.93 L515.00,310.76 L516.00,310.53 L517.00,310.86 L518.00,311.01 L519.00,310.97 L520.00,311.20 Z" fill="#b8b8b8"/>
<path d="M267.40,311.20 L267.40,310.10 L267.57,309.63 L267.73,309.04 L267.90,308.30 L268.07,307.44 L268.23,306.47 L268.40,305.43 L268.57,304.37 L268.73,303.37 L268.90,302.48 L269.07,301.78 L269.23,301.34 L269.40,301.19 L269.57,301.34 L269.73,301.78 L269.90,302.48 L270.07,303.37 L270.23,304.37 L270.40,305.43 L270.57,306.47 L270.73,307.44 L270.90,308.30 L271.07,309.04 L271.23,309.63 L271.40,310.10 L271.40,311.20 Z M271.70,311.20 L271.70,309.85 L271.87,309.28 L272.03,308.55 L272.20,307.66 L272.37,306.60 L272.53,305.42 L272.70,304.14 L272.87,302.85 L273.03,301.61 L273.20,300.53 L273.37,299.68 L273.53,299.14 L273.70,298.95 L273.87,299.14 L274.03,299.68 L274.20,300.53 L274.37,301.61 L274.53,302.85 L274.70,304.14 L274.87,305.42 L275.03,306.60 L275.20,307.66 L275.37,308.55 L275.53,309.28 L275.70,309.85 L275.70,311.20 Z M289.10,311.20 L289.10,310.44 L289.32,309.70 L289.53,308.60 L289.75,307.21 L289.97,305.78 L290.18,304.68 L290.40,304.27 L290.62,304.68 L290.83,305.78 L291.05,307.21 L291.27,308.60 L291.48,309.70 L291.70,310.44 L291.70,311.20 Z M304.90,311.20 L304.90,310.59 L305.13,310.00 L305.37,309.12 L305.60,308.01 L305.83,306.87 L306.07,306.00 L306.30,305.67 L306.53,306.00 L306.77,306.87 L307.00,308.01 L307.23,309.12 L307.47,310.00 L307.70,310.59 L307.70,311.20 Z M309.60,311.20 L309.60,310.95 L309.77,310.72 L309.93,310.36 L310.10,309.91 L310.27,309.45 L310.43,309.09 L310.60,308.96 L310.77,309.09 L310.93,309.45 L311.10,309.91 L311.27,310.36 L311.43,310.72 L311.60,310.95 L311.60,311.20 Z M255.30,311.20 L255.30,311.00 L255.47,310.81 L255.63,310.52 L255.80,310.15 L255.97,309.78 L256.13,309.49 L256.30,309.38 L256.47,309.49 L256.63,309.78 L256.80,310.15 L256.97,310.52 L257.13,310.81 L257.30,311.00 L257.30,311.20 Z M369.60,311.20 L369.60,310.88 L369.80,310.58 L370.00,310.12 L370.20,309.55 L370.40,308.95 L370.60,308.50 L370.80,308.33 L371.00,308.50 L371.20,308.95 L371.40,309.55 L371.60,310.12 L371.80,310.58 L372.00,310.88 L372.00,311.20 Z M427.50,311.20 L427.50,311.03 L427.67,310.87 L427.83,310.62 L428.00,310.31 L428.17,309.99 L428.33,309.75 L428.50,309.66 L428.67,309.75 L428.83,309.99 L429.00,310.31 L429.17,310.62 L429.33,310.87 L429.50,311.03 L429.50,311.20 Z M432.70,311.20 L432.70,310.68 L432.85,310.17 L433.00,309.41 L433.15,308.46 L433.30,307.47 L433.45,306.72 L433.60,306.44 L433.75,306.72 L433.90,307.47 L434.05,308.46 L434.20,309.41 L434.35,310.17 L434.50,310.68 L434.50,311.20 Z M443.00,311.20 L443.00,310.88 L443.23,310.58 L443.47,310.12 L443.70,309.55 L443.93,308.95 L444.17,308.50 L444.40,308.33 L444.63,308.50 L444.87,308.95 L445.10,309.55 L445.33,310.12 L445.57,310.58 L445.80,310.88 L445.80,311.20 Z M502.40,311.20 L502.40,310.95 L502.62,310.72 L502.83,310.36 L503.05,309.91 L503.27,309.45 L503.48,309.09 L503.70,308.96 L503.92,309.09 L504.13,309.45 L504.35,309.91 L504.57,310.36 L504.78,310.72 L505.00,310.95 L505.00,311.20 Z M505.20,311.20 L505.20,310.59 L505.42,310.00 L505.63,309.12 L505.85,308.01 L506.07,306.87 L506.28,306.00 L506.50,305.67 L506.72,306.00 L506.93,306.87 L507.15,308.01 L507.37,309.12 L507.58,310.00 L507.80,310.59 L507.80,311.20 Z M510.10,311.20 L510.10,309.92 L510.30,308.69 L510.50,306.84 L510.70,304.50 L510.90,302.10 L511.10,300.27 L511.30,299.58 L511.50,300.27 L511.70,302.10 L511.90,304.50 L512.10,306.84 L512.30,308.69 L512.50,309.92 L512.50,311.20 Z M511.90,311.20 L511.90,310.68 L512.07,310.19 L512.23,309.44 L512.40,308.50 L512.57,307.53 L512.73,306.79 L512.90,306.51 L513.07,306.79 L513.23,307.53 L513.40,308.50 L513.57,309.44 L513.73,310.19 L513.90,310.68 L513.90,311.20 Z" fill="#c4c4c4"/>
<path d="M268.90,311.20 L268.90,297.30 L269.40,296.90 L269.90,297.30 L269.90,311.20 Z M273.20,311.20 L273.20,294.10 L273.70,293.70 L274.20,294.10 L274.20,311.20 Z M289.90,311.20 L289.90,301.70 L290.40,301.30 L290.90,301.70 L290.90,311.20 Z M305.80,311.20 L305.80,303.70 L306.30,303.30 L306.80,303.70 L306.80,311.20 Z M310.10,311.20 L310.10,308.40 L310.60,308.00 L311.10,308.40 L311.10,311.20 Z M255.80,311.20 L255.80,309.00 L256.30,308.60 L256.80,309.00 L256.80,311.20 Z M370.30,311.20 L370.30,307.50 L370.80,307.10 L371.30,307.50 L371.30,311.20 Z M428.00,311.20 L428.00,309.40 L428.50,309.00 L429.00,309.40 L429.00,311.20 Z M433.10,311.20 L433.10,304.80 L433.60,304.40 L434.10,304.80 L434.10,311.20 Z M443.90,311.20 L443.90,307.50 L444.40,307.10 L444.90,307.50 L444.90,311.20 Z M503.20,311.20 L503.20,308.40 L503.70,308.00 L504.20,308.40 L504.20,311.20 Z M506.00,311.20 L506.00,303.70 L506.50,303.30 L507.00,303.70 L507.00,311.20 Z M510.80,311.20 L510.80,295.00 L511.30,294.60 L511.80,295.00 L511.80,311.20 Z M512.40,311.20 L512.40,304.90 L512.90,304.50 L513.40,304.90 L513.40,311.20 Z" fill="#b2b2b2"/>
<path d="M268.95,337.60 L268.95,328.70 L269.40,328.30 L269.85,328.70 L269.85,337.60 Z M273.25,337.60 L273.25,320.60 L273.70,320.20 L274.15,320.60 L274.15,337.60 Z M289.90,337.60 L289.90,333.50 L290.40,333.10 L290.90,333.50 L290.90,337.60 Z M305.85,337.60 L305.85,336.00 L306.30,335.60 L306.75,336.00 L306.75,337.60 Z M310.10,337.60 L310.10,334.40 L310.60,334.00 L311.10,334.40 L311.10,337.60 Z M346.20,337.60 L346.20,335.00 L346.70,334.60 L347.20,335.00 L347.20,337.60 Z M361.05,337.60 L361.05,336.80 L361.50,336.40 L361.95,336.80 L361.95,337.60 Z M370.25,337.60 L370.25,334.40 L370.80,334.00 L371.35,334.40 L371.35,337.60 Z M418.30,337.60 L418.30,336.80 L418.80,336.40 L419.30,336.80 L419.30,337.60 Z M443.90,337.60 L443.90,337.00 L444.40,336.60 L444.90,337.00 L444.90,337.60 Z M502.85,337.60 L502.85,328.70 L503.30,328.30 L503.75,328.70 L503.75,337.60 Z" fill="#3c3c3c"/>
<path d="M244.00,364.00 L244.00,363.54 L245.00,363.49 L246.00,363.35 L247.00,363.78 L248.00,363.48 L249.00,363.29 L250.00,363.27 L251.00,363.85 L252.00,363.48 L253.00,363.51 L254.00,363.60 L255.00,363.23 L256.00,363.58 L257.00,363.64 L258.00,363.25 L259.00,363.49 L260.00,363.76 L261.00,363.75 L262.00,363.60 L263.00,363.96 L264.00,363.51 L265.00,363.41 L266.00,363.66 L267.00,363.32 L268.00,363.26 L269.00,363.56 L270.00,363.45 L271.00,363.91 L272.00,363.96 L273.00,363.22 L274.00,363.77 L275.00,363.83 L276.00,363.28 L277.00,363.40 L278.00,363.90 L279.00,363.74 L280.00,363.81 L281.00,363.78 L282.00,363.99 L283.00,363.58 L284.00,363.76 L285.00,363.68 L286.00,363.85 L287.00,363.91 L288.00,363.97 L289.00,363.30 L290.00,363.40 L291.00,363.55 L292.00,363.90 L293.00,363.88 L294.00,363.90 L295.00,363.75 L296.00,363.95 L297.00,363.78 L298.00,363.84 L299.00,363.85 L300.00,363.48 L301.00,363.63 L302.00,363.62 L303.00,363.71 L304.00,363.57 L305.00,363.37 L306.00,363.75 L307.00,363.94 L308.00,363.62 L309.00,363.70 L310.00,363.38 L311.00,363.91 L312.00,363.30 L313.00,363.99 L314.00,363.57 L315.00,363.65 L316.00,363.75 L317.00,363.29 L318.00,363.44 L319.00,363.87 L320.00,363.60 L321.00,363.51 L322.00,363.97 L323.00,363.93 L324.00,363.52 L325.00,363.42 L326.00,363.63 L327.00,363.66 L328.00,363.59 L329.00,363.79 L330.00,363.30 L331.00,363.23 L332.00,363.61 L333.00,363.98 L334.00,363.68 L335.00,363.36 L336.00,363.74 L337.00,363.92 L338.00,363.85 L339.00,363.43 L340.00,363.50 L341.00,363.77 L342.00,363.50 L343.00,363.39 L344.00,363.23 L345.00,363.33 L346.00,363.65 L347.00,363.35 L348.00,363.26 L349.00,363.30 L350.00,363.40 L351.00,363.53 L352.00,363.59 L353.00,363.32 L354.00,363.50 L355.00,363.42 L356.00,363.82 L357.00,363.93 L358.00,363.78 L359.00,363.53 L360.00,363.54 L361.00,363.84 L362.00,363.85 L363.00,363.24 L364.00,363.94 L365.00,363.26 L366.00,363.38 L367.00,363.54 L368.00,363.20 L369.00,363.46 L370.00,363.99 L371.00,363.25 L372.00,363.67 L373.00,363.27 L374.00,363.35 L375.00,363.89 L376.00,363.97 L377.00,363.98 L378.00,363.38 L379.00,363.37 L380.00,363.82 L381.00,363.91 L382.00,363.71 L383.00,363.36 L384.00,363.41 L385.00,363.31 L386.00,363.23 L387.00,363.40 L388.00,363.33 L389.00,363.99 L390.00,363.99 L391.00,363.31 L392.00,363.51 L393.00,363.74 L394.00,363.90 L395.00,363.73 L396.00,363.73 L397.00,363.60 L398.00,363.64 L399.00,363.84 L400.00,363.93 L401.00,363.84 L402.00,363.90 L403.00,363.92 L404.00,363.67 L405.00,363.90 L406.00,363.36 L407.00,363.56 L408.00,363.63 L409.00,363.49 L410.00,363.81 L411.00,363.98 L412.00,363.94 L413.00,363.73 L414.00,363.71 L415.00,363.80 L416.00,363.75 L417.00,363.33 L418.00,363.99 L419.00,363.64 L420.00,363.69 L421.00,363.77 L422.00,363.42 L423.00,363.82 L424.00,363.97 L425.00,363.87 L426.00,363.22 L427.00,363.72 L428.00,363.91 L429.00,363.22 L430.00,363.48 L431.00,363.23 L432.00,363.73 L433.00,363.35 L434.00,363.97 L435.00,363.81 L436.00,363.36 L437.00,363.59 L438.00,363.37 L439.00,363.69 L440.00,363.30 L441.00,363.94 L442.00,363.50 L443.00,363.85 L444.00,363.84 L445.00,363.29 L446.00,363.66 L447.00,363.35 L448.00,363.77 L449.00,363.42 L450.00,363.27 L451.00,363.50 L452.00,363.81 L453.00,363.47 L454.00,363.24 L455.00,363.36 L456.00,363.64 L457.00,363.68 L458.00,363.92 L459.00,363.39 L460.00,363.87 L461.00,363.83 L462.00,363.97 L463.00,363.87 L464.00,363.69 L465.00,363.62 L466.00,363.86 L467.00,363.66 L468.00,363.39 L469.00,363.92 L470.00,363.89 L471.00,363.58 L472.00,363.28 L473.00,363.27 L474.00,363.54 L475.00,363.93 L476.00,363.30 L477.00,363.21 L478.00,363.28 L479.00,363.58 L480.00,363.69 L481.00,363.53 L482.00,363.37 L483.00,363.20 L484.00,363.61 L485.00,363.59 L486.00,363.75 L487.00,363.57 L488.00,363.57 L489.00,363.77 L490.00,363.63 L491.00,363.27 L492.00,363.81 L493.00,363.80 L494.00,363.76 L495.00,363.31 L496.00,363.76 L497.00,363.34 L498.00,363.26 L499.00,363.30 L500.00,363.36 L501.00,363.84 L502.00,363.64 L503.00,363.34 L504.00,363.80 L505.00,363.52 L506.00,363.30 L507.00,363.25 L508.00,363.72 L509.00,363.90 L510.00,363.98 L511.00,363.75 L512.00,363.56 L513.00,363.78 L514.00,363.34 L515.00,363.48 L516.00,363.50 L517.00,363.34 L518.00,363.74 L519.00,363.48 L520.00,364.00 Z" fill="#0c0c0c"/>
<path d="M255.80,364.00 L255.80,361.90 L256.30,361.50 L256.80,361.90 L256.80,364.00 Z M268.90,364.00 L268.90,360.80 L269.40,360.40 L269.90,360.80 L269.90,364.00 Z M273.20,364.00 L273.20,354.20 L273.70,353.80 L274.20,354.20 L274.20,364.00 Z M274.30,364.00 L274.30,361.00 L274.90,360.60 L275.50,361.00 L275.50,364.00 Z M272.10,364.00 L272.10,362.00 L272.60,361.60 L273.10,362.00 L273.10,364.00 Z M289.85,364.00 L289.85,356.90 L290.40,356.50 L290.95,356.90 L290.95,364.00 Z M305.65,364.00 L305.65,362.40 L306.30,362.00 L306.95,362.40 L306.95,364.00 Z M346.10,364.00 L346.10,362.20 L346.70,361.80 L347.30,362.20 L347.30,364.00 Z M361.05,364.00 L361.05,362.40 L361.50,362.00 L361.95,362.40 L361.95,364.00 Z M370.25,364.00 L370.25,360.40 L370.80,360.00 L371.35,360.40 L371.35,364.00 Z M443.85,364.00 L443.85,360.00 L444.40,359.60 L444.95,360.00 L444.95,364.00 Z M449.10,364.00 L449.10,363.00 L449.80,362.60 L450.50,363.00 L450.50,364.00 Z M502.85,364.00 L502.85,346.90 L503.30,346.50 L503.75,346.90 L503.75,364.00 Z M486.50,364.00 L486.50,363.00 L487.00,362.60 L487.50,363.00 L487.50,364.00 Z M391.00,364.00 L391.00,363.20 L392.00,362.80 L393.00,363.20 L393.00,364.00 Z M413.75,364.00 L413.75,363.20 L415.00,362.80 L416.25,363.20 L416.25,364.00 Z" fill="#0c0c0c"/>
<path d="M427.85,364.00 L427.85,360.40 L428.70,360.00 L429.55,360.40 L429.55,364.00 Z M505.35,364.00 L505.35,359.10 L506.20,358.70 L507.05,359.10 L507.05,364.00 Z" fill="#333"/>
<line x1="243.20" y1="281.00" x2="243.20" y2="364.00" stroke="#858585" stroke-width="1.0" />
<line x1="242.50" y1="311.20" x2="520.00" y2="311.20" stroke="#262626" stroke-width="1.0" />
<line x1="240.00" y1="337.60" x2="520.00" y2="337.60" stroke="#262626" stroke-width="1.0" />
<line x1="239.00" y1="364.00" x2="520.00" y2="364.00" stroke="#262626" stroke-width="1.0" />
<line x1="238.60" y1="291.70" x2="242.90" y2="291.70" stroke="#6e6e6e" stroke-width="0.8" />
<line x1="238.60" y1="319.30" x2="242.90" y2="319.30" stroke="#6e6e6e" stroke-width="0.8" />
<line x1="238.60" y1="346.20" x2="242.90" y2="346.20" stroke="#6e6e6e" stroke-width="0.8" />
<text transform="translate(230.80,295.15) scale(1.07,1)" font-size="8.5" text-anchor="middle" fill="#1c1c1c" stroke="#1c1c1c" stroke-width="0.28" >30</text>
<text transform="translate(231.20,310.25) scale(1.07,1)" font-size="8.5" text-anchor="middle" fill="#1c1c1c" stroke="#1c1c1c" stroke-width="0.28" >0</text>
<text transform="translate(228.30,322.65) scale(1.07,1)" font-size="8.5" text-anchor="middle" fill="#1c1c1c" stroke="#1c1c1c" stroke-width="0.28" >135</text>
<text transform="translate(231.20,336.45) scale(1.07,1)" font-size="8.5" text-anchor="middle" fill="#1c1c1c" stroke="#1c1c1c" stroke-width="0.28" >0</text>
<text transform="translate(229.40,351.05) scale(1.07,1)" font-size="8.5" text-anchor="middle" fill="#1c1c1c" stroke="#1c1c1c" stroke-width="0.28" >90</text>
<text transform="translate(231.20,363.15) scale(1.07,1)" font-size="8.5" text-anchor="middle" fill="#1c1c1c" stroke="#1c1c1c" stroke-width="0.28" >0</text>
<text transform="translate(328.80,298.50) scale(1.09,1)" font-size="10.9" text-anchor="middle" fill="#1c1c1c" stroke="#1c1c1c" stroke-width="0.28" >H3K27ac</text>
<text transform="translate(329.00,325.70) scale(1.09,1)" font-size="10.9" text-anchor="middle" fill="#1c1c1c" stroke="#1c1c1c" stroke-width="0.28" >BATF3</text>
<text transform="translate(328.80,352.00) scale(1.09,1)" font-size="10.9" text-anchor="middle" fill="#1c1c1c" stroke="#1c1c1c" stroke-width="0.28" >IRF8</text>
<text x="343.90" y="377.40" font-size="10.2" text-anchor="end" fill="#1c1c1c" stroke="#1c1c1c" stroke-width="0.28" >100 kb</text>
<line x1="348.50" y1="374.40" x2="414.80" y2="374.40" stroke="#2a2a2a" stroke-width="0.8" />
<line x1="348.50" y1="369.80" x2="348.50" y2="379.00" stroke="#2a2a2a" stroke-width="0.8" />
<line x1="414.80" y1="369.80" x2="414.80" y2="379.00" stroke="#2a2a2a" stroke-width="0.8" />
<text x="419.10" y="377.40" font-size="10.2" text-anchor="start" fill="#1c1c1c" stroke="#1c1c1c" stroke-width="0.28" >mm10</text>
<text x="251.90" y="401.60" font-size="10.0" text-anchor="start" fill="#1c1c1c" stroke="#1c1c1c" stroke-width="0.28" >Fyco1</text>
<line x1="243.90" y1="407.30" x2="331.70" y2="407.30" stroke="#1a1a1a" stroke-width="0.9" />
<path d="M247.46,405.70 L245.62,407.30 L247.46,408.90 M251.16,405.70 L249.32,407.30 L251.16,408.90 M254.86,405.70 L253.02,407.30 L254.86,408.90 M258.56,405.70 L256.72,407.30 L258.56,408.90 M262.26,405.70 L260.42,407.30 L262.26,408.90 M265.96,405.70 L264.12,407.30 L265.96,408.90 M269.66,405.70 L267.82,407.30 L269.66,408.90 M273.36,405.70 L271.52,407.30 L273.36,408.90 M277.06,405.70 L275.22,407.30 L277.06,408.90 M280.76,405.70 L278.92,407.30 L280.76,408.90 M284.46,405.70 L282.62,407.30 L284.46,408.90 M288.16,405.70 L286.32,407.30 L288.16,408.90 M291.86,405.70 L290.02,407.30 L291.86,408.90 M295.56,405.70 L293.72,407.30 L295.56,408.90 M299.26,405.70 L297.42,407.30 L299.26,408.90 M302.96,405.70 L301.12,407.30 L302.96,408.90 M306.66,405.70 L304.82,407.30 L306.66,408.90 M310.36,405.70 L308.52,407.30 L310.36,408.90 M314.06,405.70 L312.22,407.30 L314.06,408.90 M317.76,405.70 L315.92,407.30 L317.76,408.90 M321.46,405.70 L319.62,407.30 L321.46,408.90 M325.16,405.70 L323.32,407.30 L325.16,408.90 M328.86,405.70 L327.02,407.30 L328.86,408.90" fill="#1a1a1a" fill-opacity="0.55" stroke="#1a1a1a" stroke-width="1.0" stroke-linejoin="miter"/>
<line x1="251.90" y1="404.50" x2="251.90" y2="410.10" stroke="#222" stroke-width="1.4" />
<line x1="331.70" y1="404.50" x2="331.70" y2="410.10" stroke="#222" stroke-width="0.95" />
<text x="314.80" y="418.60" font-size="10.0" text-anchor="start" fill="#1c1c1c" stroke="#1c1c1c" stroke-width="0.28" >Xcr1</text>
<rect x="335.9" y="414.2" width="33" height="4.4" fill="#0c0c0c"/>
<rect x="368.0" y="411.8" width="8.5" height="8.6" fill="#0c0c0c"/>
<line x1="376.40" y1="416.40" x2="426.70" y2="416.40" stroke="#1a1a1a" stroke-width="0.9" />
<path d="M379.96,414.80 L378.12,416.40 L379.96,418.00 M383.51,414.80 L381.67,416.40 L383.51,418.00 M387.06,414.80 L385.22,416.40 L387.06,418.00 M390.61,414.80 L388.77,416.40 L390.61,418.00 M394.16,414.80 L392.32,416.40 L394.16,418.00 M397.71,414.80 L395.87,416.40 L397.71,418.00 M401.26,414.80 L399.42,416.40 L401.26,418.00 M404.81,414.80 L402.97,416.40 L404.81,418.00 M408.36,414.80 L406.52,416.40 L408.36,418.00 M411.91,414.80 L410.07,416.40 L411.91,418.00 M415.46,414.80 L413.62,416.40 L415.46,418.00 M419.01,414.80 L417.17,416.40 L419.01,418.00 M422.56,414.80 L420.72,416.40 L422.56,418.00" fill="#1a1a1a" fill-opacity="0.55" stroke="#1a1a1a" stroke-width="1.0" stroke-linejoin="miter"/>
<line x1="426.70" y1="413.20" x2="426.70" y2="419.60" stroke="#222" stroke-width="0.95" />
<path d="M244.00,447.40 L244.00,446.90 L245.00,447.10 L246.00,447.18 L247.00,446.21 L248.00,446.65 L249.00,446.50 L250.00,446.68 L251.00,446.90 L252.00,446.45 L253.00,446.65 L254.00,446.38 L255.00,446.54 L256.00,446.31 L257.00,446.83 L258.00,447.20 L259.00,447.21 L260.00,446.46 L261.00,447.18 L262.00,446.55 L263.00,446.59 L264.00,447.32 L265.00,446.38 L266.00,447.36 L267.00,446.27 L268.00,446.31 L269.00,447.12 L270.00,446.46 L271.00,446.45 L272.00,447.24 L273.00,446.53 L274.00,447.24 L275.00,446.21 L276.00,446.50 L277.00,446.13 L278.00,447.33 L279.00,446.99 L280.00,446.59 L281.00,446.61 L282.00,447.16 L283.00,446.25 L284.00,446.30 L285.00,447.01 L286.00,447.21 L287.00,446.53 L288.00,446.87 L289.00,446.54 L290.00,446.76 L291.00,446.89 L292.00,447.37 L293.00,447.22 L294.00,446.80 L295.00,446.45 L296.00,446.85 L297.00,446.43 L298.00,446.70 L299.00,446.26 L300.00,446.55 L301.00,446.98 L302.00,447.22 L303.00,447.31 L304.00,447.35 L305.00,446.28 L306.00,446.26 L307.00,446.42 L308.00,447.26 L309.00,446.54 L310.00,447.23 L311.00,446.24 L312.00,446.55 L313.00,446.43 L314.00,446.61 L315.00,446.86 L316.00,446.30 L317.00,446.15 L318.00,447.09 L319.00,446.83 L320.00,446.45 L321.00,446.52 L322.00,446.87 L323.00,446.81 L324.00,446.14 L325.00,447.04 L326.00,447.13 L327.00,446.51 L328.00,447.04 L329.00,446.23 L330.00,446.98 L331.00,446.20 L332.00,446.91 L333.00,446.25 L334.00,446.42 L335.00,446.45 L336.00,447.12 L337.00,447.19 L338.00,447.36 L339.00,447.17 L340.00,446.53 L341.00,447.32 L342.00,447.09 L343.00,446.66 L344.00,447.20 L345.00,446.97 L346.00,447.10 L347.00,446.52 L348.00,447.25 L349.00,446.10 L350.00,446.62 L351.00,446.47 L352.00,446.68 L353.00,446.75 L354.00,446.14 L355.00,446.24 L356.00,446.33 L357.00,447.36 L358.00,446.63 L359.00,446.18 L360.00,446.57 L361.00,446.73 L362.00,446.56 L363.00,447.17 L364.00,446.45 L365.00,446.38 L366.00,447.31 L367.00,446.74 L368.00,446.63 L369.00,446.94 L370.00,446.51 L371.00,446.20 L372.00,446.22 L373.00,447.00 L374.00,447.20 L375.00,446.29 L376.00,446.60 L377.00,446.32 L378.00,446.27 L379.00,447.04 L380.00,446.64 L381.00,447.01 L382.00,446.36 L383.00,446.50 L384.00,447.09 L385.00,446.75 L386.00,446.63 L387.00,447.10 L388.00,447.16 L389.00,446.78 L390.00,447.31 L391.00,446.76 L392.00,446.18 L393.00,446.33 L394.00,447.33 L395.00,446.33 L396.00,446.47 L397.00,446.48 L398.00,447.37 L399.00,446.41 L400.00,447.15 L401.00,446.36 L402.00,446.98 L403.00,446.92 L404.00,447.18 L405.00,446.27 L406.00,447.11 L407.00,446.27 L408.00,446.73 L409.00,447.21 L410.00,446.55 L411.00,446.71 L412.00,447.36 L413.00,446.33 L414.00,447.05 L415.00,447.37 L416.00,446.40 L417.00,446.45 L418.00,446.90 L419.00,447.16 L420.00,446.71 L421.00,446.64 L422.00,446.50 L423.00,446.76 L424.00,446.66 L425.00,446.46 L426.00,447.15 L427.00,447.17 L428.00,446.77 L429.00,446.42 L430.00,446.36 L431.00,446.29 L432.00,446.83 L433.00,446.47 L434.00,447.26 L435.00,446.89 L436.00,447.31 L437.00,446.31 L438.00,446.10 L439.00,446.53 L440.00,446.42 L441.00,446.92 L442.00,446.37 L443.00,447.29 L444.00,446.92 L445.00,446.94 L446.00,446.28 L447.00,447.18 L448.00,447.19 L449.00,447.28 L450.00,446.30 L451.00,446.99 L452.00,446.23 L453.00,446.99 L454.00,446.31 L455.00,447.15 L456.00,446.23 L457.00,446.13 L458.00,446.26 L459.00,446.50 L460.00,446.23 L461.00,446.21 L462.00,446.15 L463.00,447.04 L464.00,446.30 L465.00,446.39 L466.00,446.95 L467.00,447.18 L468.00,446.23 L469.00,446.79 L470.00,446.71 L471.00,446.25 L472.00,446.77 L473.00,447.07 L474.00,446.51 L475.00,446.71 L476.00,447.05 L477.00,446.50 L478.00,446.22 L479.00,447.08 L480.00,446.34 L481.00,446.42 L482.00,446.72 L483.00,447.15 L484.00,446.54 L485.00,447.03 L486.00,447.07 L487.00,446.29 L488.00,447.05 L489.00,447.28 L490.00,446.30 L491.00,446.11 L492.00,447.00 L493.00,446.87 L494.00,446.69 L495.00,446.42 L496.00,447.38 L497.00,446.56 L498.00,447.10 L499.00,446.19 L500.00,446.86 L501.00,446.17 L502.00,446.81 L503.00,446.55 L504.00,447.35 L505.00,447.14 L506.00,447.01 L507.00,446.92 L508.00,447.18 L509.00,446.85 L510.00,447.29 L511.00,446.66 L512.00,446.15 L513.00,446.29 L514.00,446.59 L515.00,446.12 L516.00,446.45 L517.00,446.58 L518.00,446.81 L519.00,447.29 L520.00,447.40 Z" fill="#7a7a7a"/>
<path d="M244.00,447.40 L244.00,445.99 L245.00,447.34 L246.00,446.79 L247.00,446.91 L248.00,445.78 L249.00,445.91 L250.00,445.44 L251.00,447.21 L252.00,446.47 L253.00,447.33 L254.00,446.92 L255.00,446.29 L256.00,447.34 L257.00,446.96 L258.00,445.97 L259.00,446.20 L260.00,446.92 L261.00,446.10 L262.00,447.40 Z" fill="#8a8a8a"/>
<path d="M322.00,447.40 L322.00,445.89 L323.00,446.72 L324.00,446.40 L325.00,445.94 L326.00,447.01 L327.00,446.52 L328.00,446.41 L329.00,445.79 L330.00,447.35 L331.00,447.28 L332.00,446.86 L333.00,446.00 L334.00,445.97 L335.00,447.17 L336.00,445.84 L337.00,446.50 L338.00,445.75 L339.00,445.81 L340.00,447.24 L341.00,445.74 L342.00,446.59 L343.00,447.13 L344.00,446.61 L345.00,447.27 L346.00,446.13 L347.00,446.47 L348.00,447.21 L349.00,447.02 L350.00,447.40 Z" fill="#8a8a8a"/>
<path d="M242.50,447.40 L242.50,447.24 L242.73,446.96 L242.97,446.38 L243.20,445.42 L243.43,444.24 L243.67,443.21 L243.90,442.80 L244.13,443.21 L244.37,444.24 L244.60,445.42 L244.83,446.38 L245.07,446.96 L245.30,447.24 L245.30,447.40 Z M267.10,447.40 L267.10,446.99 L267.24,446.70 L267.38,446.25 L267.53,445.61 L267.67,444.73 L267.81,443.60 L267.95,442.25 L268.09,440.73 L268.23,439.16 L268.38,437.69 L268.52,436.48 L268.66,435.68 L268.80,435.40 L268.94,435.68 L269.08,436.48 L269.23,437.69 L269.37,439.16 L269.51,440.73 L269.65,442.25 L269.79,443.60 L269.93,444.73 L270.07,445.61 L270.22,446.25 L270.36,446.70 L270.50,446.99 L270.50,447.40 Z M269.00,447.40 L269.00,447.27 L269.13,447.17 L269.27,447.03 L269.40,446.82 L269.53,446.53 L269.67,446.17 L269.80,445.72 L269.93,445.23 L270.07,444.72 L270.20,444.24 L270.33,443.85 L270.47,443.59 L270.60,443.50 L270.73,443.59 L270.87,443.85 L271.00,444.24 L271.13,444.72 L271.27,445.23 L271.40,445.72 L271.53,446.17 L271.67,446.53 L271.80,446.82 L271.93,447.03 L272.07,447.17 L272.20,447.27 L272.20,447.40 Z" fill="#8a8a8a"/>
<path d="M322.50,447.40 L322.50,447.00 L323.60,445.60 L324.70,443.20 L325.60,445.00 L326.20,444.00 L327.20,445.20 L328.10,442.60 L329.00,443.80 L329.60,441.80 L330.10,440.60 L330.50,434.00 L331.00,429.10 L331.50,434.00 L331.90,441.40 L332.60,442.20 L333.10,436.00 L333.60,433.40 L334.10,437.00 L334.60,443.50 L335.30,447.00 L335.30,447.40 Z" fill="#8e8e8e"/>
<path d="M330.50,447.40 L330.50,429.50 L331.00,429.10 L331.50,429.50 L331.50,447.40 Z M333.10,447.40 L333.10,433.80 L333.60,433.40 L334.10,433.80 L334.10,447.40 Z" fill="#777"/>
<path d="M312.30,447.40 L312.30,447.33 L312.52,447.21 L312.73,446.98 L312.95,446.62 L313.17,446.20 L313.38,445.84 L313.60,445.70 L313.82,445.84 L314.03,446.20 L314.25,446.62 L314.47,446.98 L314.68,447.21 L314.90,447.33 L314.90,447.40 Z M320.90,447.40 L320.90,447.30 L321.05,447.15 L321.20,446.85 L321.35,446.39 L321.50,445.85 L321.65,445.38 L321.80,445.20 L321.95,445.38 L322.10,445.85 L322.25,446.39 L322.40,446.85 L322.55,447.15 L322.70,447.30 L322.70,447.40 Z" fill="#8a8a8a"/>
<path d="M340.40,447.40 L340.40,446.80 L341.20,445.00 L342.00,443.60 L342.80,442.00 L343.50,440.20 L344.20,442.40 L345.00,443.20 L345.80,445.00 L346.60,446.80 L346.60,447.40 Z" fill="#8a8a8a"/>
<path d="M378.30,447.40 L378.30,447.29 L378.52,447.13 L378.73,446.80 L378.95,446.30 L379.17,445.70 L379.38,445.20 L379.60,445.00 L379.82,445.20 L380.03,445.70 L380.25,446.30 L380.47,446.80 L380.68,447.13 L380.90,447.29 L380.90,447.40 Z M380.80,447.40 L380.80,447.32 L381.00,447.19 L381.20,446.95 L381.40,446.58 L381.60,446.13 L381.80,445.75 L382.00,445.60 L382.20,445.75 L382.40,446.13 L382.60,446.58 L382.80,446.95 L383.00,447.19 L383.20,447.32 L383.20,447.40 Z M397.50,447.40 L397.50,447.02 L397.64,446.78 L397.78,446.42 L397.93,445.92 L398.07,445.26 L398.21,444.43 L398.35,443.46 L398.49,442.40 L398.63,441.32 L398.77,440.33 L398.92,439.52 L399.06,438.98 L399.20,438.80 L399.34,438.98 L399.48,439.52 L399.62,440.33 L399.77,441.32 L399.91,442.40 L400.05,443.46 L400.19,444.43 L400.33,445.26 L400.47,445.92 L400.62,446.42 L400.76,446.78 L400.90,447.02 L400.90,447.40 Z M438.30,447.40 L438.30,447.14 L438.55,446.73 L438.80,445.93 L439.05,444.70 L439.30,443.23 L439.55,441.99 L439.80,441.50 L440.05,441.99 L440.30,443.23 L440.55,444.70 L440.80,445.93 L441.05,446.73 L441.30,447.14 L441.30,447.40 Z M462.70,447.40 L462.70,447.34 L462.95,447.24 L463.20,447.05 L463.45,446.76 L463.70,446.41 L463.95,446.12 L464.20,446.00 L464.45,446.12 L464.70,446.41 L464.95,446.76 L465.20,447.05 L465.45,447.24 L465.70,447.34 L465.70,447.40 Z M497.30,447.40 L497.30,446.97 L497.55,446.29 L497.80,444.98 L498.05,442.96 L498.30,440.55 L498.55,438.51 L498.80,437.70 L499.05,438.51 L499.30,440.55 L499.55,442.96 L499.80,444.98 L500.05,446.29 L500.30,446.97 L500.30,447.40 Z" fill="#8a8a8a"/>
<path d="M424.90,447.40 L424.90,447.00 L425.50,442.00 L426.10,440.40 L428.60,440.20 L429.10,442.20 L429.70,447.00 L429.70,447.40 Z" fill="#8a8a8a"/>
<path d="M244.00,473.90 L244.00,473.87 L245.00,473.41 L246.00,473.80 L247.00,473.58 L248.00,473.43 L249.00,473.34 L250.00,473.58 L251.00,473.55 L252.00,473.89 L253.00,473.60 L254.00,473.64 L255.00,473.30 L256.00,473.52 L257.00,473.37 L258.00,473.60 L259.00,473.78 L260.00,473.30 L261.00,473.33 L262.00,473.64 L263.00,473.83 L264.00,473.54 L265.00,473.55 L266.00,473.36 L267.00,473.48 L268.00,473.55 L269.00,473.50 L270.00,473.64 L271.00,473.87 L272.00,473.86 L273.00,473.24 L274.00,473.31 L275.00,473.69 L276.00,473.28 L277.00,473.53 L278.00,473.83 L279.00,473.30 L280.00,473.49 L281.00,473.25 L282.00,473.42 L283.00,473.83 L284.00,473.46 L285.00,473.35 L286.00,473.27 L287.00,473.67 L288.00,473.53 L289.00,473.41 L290.00,473.78 L291.00,473.31 L292.00,473.35 L293.00,473.86 L294.00,473.49 L295.00,473.64 L296.00,473.77 L297.00,473.48 L298.00,473.22 L299.00,473.51 L300.00,473.82 L301.00,473.55 L302.00,473.35 L303.00,473.23 L304.00,473.40 L305.00,473.87 L306.00,473.22 L307.00,473.48 L308.00,473.84 L309.00,473.81 L310.00,473.84 L311.00,473.43 L312.00,473.79 L313.00,473.33 L314.00,473.82 L315.00,473.53 L316.00,473.59 L317.00,473.87 L318.00,473.90 L319.00,473.27 L320.00,473.22 L321.00,473.81 L322.00,473.39 L323.00,473.21 L324.00,473.27 L325.00,473.28 L326.00,473.66 L327.00,473.40 L328.00,473.55 L329.00,473.24 L330.00,473.41 L331.00,473.31 L332.00,473.30 L333.00,473.63 L334.00,473.40 L335.00,473.83 L336.00,473.76 L337.00,473.24 L338.00,473.62 L339.00,473.42 L340.00,473.50 L341.00,473.72 L342.00,473.49 L343.00,473.26 L344.00,473.67 L345.00,473.66 L346.00,473.77 L347.00,473.78 L348.00,473.32 L349.00,473.41 L350.00,473.22 L351.00,473.43 L352.00,473.23 L353.00,473.74 L354.00,473.77 L355.00,473.75 L356.00,473.63 L357.00,473.21 L358.00,473.74 L359.00,473.58 L360.00,473.86 L361.00,473.88 L362.00,473.52 L363.00,473.47 L364.00,473.54 L365.00,473.26 L366.00,473.30 L367.00,473.23 L368.00,473.49 L369.00,473.72 L370.00,473.81 L371.00,473.37 L372.00,473.79 L373.00,473.90 L374.00,473.41 L375.00,473.81 L376.00,473.46 L377.00,473.76 L378.00,473.60 L379.00,473.89 L380.00,473.64 L381.00,473.67 L382.00,473.72 L383.00,473.81 L384.00,473.50 L385.00,473.42 L386.00,473.76 L387.00,473.87 L388.00,473.71 L389.00,473.41 L390.00,473.71 L391.00,473.45 L392.00,473.85 L393.00,473.41 L394.00,473.80 L395.00,473.74 L396.00,473.39 L397.00,473.57 L398.00,473.45 L399.00,473.70 L400.00,473.43 L401.00,473.69 L402.00,473.56 L403.00,473.59 L404.00,473.26 L405.00,473.37 L406.00,473.52 L407.00,473.31 L408.00,473.47 L409.00,473.39 L410.00,473.54 L411.00,473.50 L412.00,473.75 L413.00,473.25 L414.00,473.45 L415.00,473.33 L416.00,473.48 L417.00,473.88 L418.00,473.82 L419.00,473.28 L420.00,473.41 L421.00,473.27 L422.00,473.27 L423.00,473.74 L424.00,473.21 L425.00,473.47 L426.00,473.39 L427.00,473.54 L428.00,473.72 L429.00,473.56 L430.00,473.58 L431.00,473.69 L432.00,473.66 L433.00,473.59 L434.00,473.71 L435.00,473.80 L436.00,473.34 L437.00,473.65 L438.00,473.64 L439.00,473.35 L440.00,473.41 L441.00,473.59 L442.00,473.68 L443.00,473.34 L444.00,473.73 L445.00,473.58 L446.00,473.64 L447.00,473.20 L448.00,473.73 L449.00,473.48 L450.00,473.53 L451.00,473.87 L452.00,473.77 L453.00,473.28 L454.00,473.35 L455.00,473.75 L456.00,473.78 L457.00,473.24 L458.00,473.49 L459.00,473.40 L460.00,473.27 L461.00,473.72 L462.00,473.55 L463.00,473.26 L464.00,473.77 L465.00,473.72 L466.00,473.28 L467.00,473.31 L468.00,473.54 L469.00,473.81 L470.00,473.32 L471.00,473.68 L472.00,473.37 L473.00,473.72 L474.00,473.79 L475.00,473.41 L476.00,473.62 L477.00,473.64 L478.00,473.59 L479.00,473.58 L480.00,473.57 L481.00,473.45 L482.00,473.83 L483.00,473.43 L484.00,473.56 L485.00,473.33 L486.00,473.70 L487.00,473.43 L488.00,473.76 L489.00,473.41 L490.00,473.42 L491.00,473.52 L492.00,473.56 L493.00,473.23 L494.00,473.65 L495.00,473.84 L496.00,473.67 L497.00,473.87 L498.00,473.28 L499.00,473.32 L500.00,473.77 L501.00,473.46 L502.00,473.76 L503.00,473.30 L504.00,473.61 L505.00,473.86 L506.00,473.46 L507.00,473.84 L508.00,473.27 L509.00,473.25 L510.00,473.47 L511.00,473.73 L512.00,473.36 L513.00,473.87 L514.00,473.82 L515.00,473.69 L516.00,473.85 L517.00,473.29 L518.00,473.43 L519.00,473.33 L520.00,473.90 Z" fill="#555"/>
<path d="M267.30,473.90 L267.30,473.84 L267.55,473.75 L267.80,473.58 L268.05,473.30 L268.30,472.98 L268.55,472.71 L268.80,472.60 L269.05,472.71 L269.30,472.98 L269.55,473.30 L269.80,473.58 L270.05,473.75 L270.30,473.84 L270.30,473.90 Z M321.50,473.90 L321.50,473.84 L321.71,473.81 L321.92,473.75 L322.12,473.68 L322.33,473.58 L322.54,473.45 L322.75,473.30 L322.96,473.14 L323.17,472.98 L323.38,472.83 L323.58,472.71 L323.79,472.63 L324.00,472.60 L324.21,472.63 L324.42,472.71 L324.62,472.83 L324.83,472.98 L325.04,473.14 L325.25,473.30 L325.46,473.45 L325.67,473.58 L325.88,473.68 L326.08,473.75 L326.29,473.81 L326.50,473.84 L326.50,473.90 Z M327.50,473.90 L327.50,473.83 L327.71,473.79 L327.92,473.73 L328.12,473.64 L328.33,473.53 L328.54,473.38 L328.75,473.21 L328.96,473.03 L329.17,472.84 L329.38,472.67 L329.58,472.52 L329.79,472.43 L330.00,472.40 L330.21,472.43 L330.42,472.52 L330.62,472.67 L330.83,472.84 L331.04,473.03 L331.25,473.21 L331.46,473.38 L331.67,473.53 L331.88,473.64 L332.08,473.73 L332.29,473.79 L332.50,473.83 L332.50,473.90 Z M377.90,473.90 L377.90,473.71 L378.04,473.59 L378.18,473.41 L378.33,473.16 L378.47,472.83 L378.61,472.42 L378.75,471.93 L378.89,471.40 L379.03,470.86 L379.18,470.36 L379.32,469.96 L379.46,469.69 L379.60,469.60 L379.74,469.69 L379.88,469.96 L380.03,470.36 L380.17,470.86 L380.31,471.40 L380.45,471.93 L380.59,472.42 L380.73,472.83 L380.88,473.16 L381.02,473.41 L381.16,473.59 L381.30,473.71 L381.30,473.90 Z M382.50,473.90 L382.50,473.56 L382.66,473.34 L382.82,473.02 L382.97,472.57 L383.13,471.98 L383.29,471.24 L383.45,470.37 L383.61,469.42 L383.77,468.46 L383.92,467.57 L384.08,466.84 L384.24,466.37 L384.40,466.20 L384.56,466.37 L384.72,466.84 L384.88,467.57 L385.03,468.46 L385.19,469.42 L385.35,470.37 L385.51,471.24 L385.67,471.98 L385.82,472.57 L385.98,473.02 L386.14,473.34 L386.30,473.56 L386.30,473.90 Z M442.80,473.90 L442.80,473.68 L442.93,473.55 L443.07,473.34 L443.20,473.06 L443.33,472.68 L443.47,472.21 L443.60,471.66 L443.73,471.05 L443.87,470.44 L444.00,469.87 L444.13,469.41 L444.27,469.11 L444.40,469.00 L444.53,469.11 L444.67,469.41 L444.80,469.87 L444.93,470.44 L445.07,471.05 L445.20,471.66 L445.33,472.21 L445.47,472.68 L445.60,473.06 L445.73,473.34 L445.87,473.55 L446.00,473.68 L446.00,473.90 Z" fill="#626262"/>
<path d="M425.40,473.90 L425.40,473.45 L425.59,473.09 L425.78,472.52 L425.97,471.66 L426.17,470.46 L426.36,468.87 L426.55,466.90 L426.74,464.66 L426.93,462.29 L427.12,460.04 L427.32,458.18 L427.51,456.93 L427.70,456.50 L427.89,456.93 L428.08,458.18 L428.27,460.04 L428.47,462.29 L428.66,464.66 L428.85,466.90 L429.04,468.87 L429.23,470.46 L429.43,471.66 L429.62,472.52 L429.81,473.09 L430.00,473.45 L430.00,473.90 Z M437.10,473.90 L437.10,473.46 L437.31,473.11 L437.52,472.55 L437.73,471.71 L437.93,470.54 L438.14,468.98 L438.35,467.07 L438.56,464.87 L438.77,462.56 L438.98,460.36 L439.18,458.54 L439.39,457.32 L439.60,456.90 L439.81,457.32 L440.02,458.54 L440.23,460.36 L440.43,462.56 L440.64,464.87 L440.85,467.07 L441.06,468.98 L441.27,470.54 L441.48,471.71 L441.68,472.55 L441.89,473.11 L442.10,473.46 L442.10,473.90 Z" fill="#555555"/>
<path d="M338.60,473.90 L338.60,472.95 L338.77,472.63 L338.93,472.24 L339.10,471.80 L339.27,471.30 L339.43,470.76 L339.60,470.21 L339.77,469.66 L339.93,469.15 L340.10,468.72 L340.27,468.38 L340.43,468.17 L340.60,468.10 L340.77,468.17 L340.93,468.38 L341.10,468.72 L341.27,469.15 L341.43,469.66 L341.60,470.21 L341.77,470.76 L341.93,471.30 L342.10,471.80 L342.27,472.24 L342.43,472.63 L342.60,472.95 L342.60,473.90 Z M341.10,473.90 L341.10,473.29 L341.28,473.09 L341.47,472.84 L341.65,472.56 L341.83,472.24 L342.02,471.90 L342.20,471.54 L342.38,471.20 L342.57,470.87 L342.75,470.59 L342.93,470.38 L343.12,470.25 L343.30,470.20 L343.48,470.25 L343.67,470.38 L343.85,470.59 L344.03,470.87 L344.22,471.20 L344.40,471.54 L344.58,471.90 L344.77,472.24 L344.95,472.56 L345.13,472.84 L345.32,473.09 L345.50,473.29 L345.50,473.90 Z M344.00,473.90 L344.00,473.55 L344.25,473.30 L344.50,472.96 L344.75,472.56 L345.00,472.18 L345.25,471.90 L345.50,471.80 L345.75,471.90 L346.00,472.18 L346.25,472.56 L346.50,472.96 L346.75,473.30 L347.00,473.55 L347.00,473.90 Z" fill="#626262"/>
<path d="M244.00,499.80 L244.00,499.58 L245.00,499.41 L246.00,499.73 L247.00,499.53 L248.00,499.74 L249.00,499.79 L250.00,499.57 L251.00,499.71 L252.00,499.55 L253.00,499.21 L254.00,499.77 L255.00,499.30 L256.00,499.69 L257.00,499.16 L258.00,499.21 L259.00,499.63 L260.00,499.12 L261.00,499.23 L262.00,499.74 L263.00,499.47 L264.00,499.24 L265.00,499.06 L266.00,499.66 L267.00,499.60 L268.00,499.18 L269.00,499.03 L270.00,499.72 L271.00,499.73 L272.00,499.20 L273.00,499.55 L274.00,499.49 L275.00,499.10 L276.00,499.20 L277.00,499.27 L278.00,499.11 L279.00,499.21 L280.00,499.15 L281.00,499.29 L282.00,499.33 L283.00,499.75 L284.00,499.07 L285.00,499.07 L286.00,499.52 L287.00,499.30 L288.00,499.79 L289.00,499.40 L290.00,499.30 L291.00,499.56 L292.00,499.47 L293.00,499.13 L294.00,499.69 L295.00,499.44 L296.00,499.73 L297.00,499.49 L298.00,499.09 L299.00,499.31 L300.00,499.78 L301.00,499.11 L302.00,499.27 L303.00,499.38 L304.00,499.57 L305.00,499.56 L306.00,499.65 L307.00,499.30 L308.00,499.76 L309.00,499.04 L310.00,499.72 L311.00,499.30 L312.00,499.34 L313.00,499.51 L314.00,499.58 L315.00,499.45 L316.00,499.54 L317.00,499.02 L318.00,499.28 L319.00,499.39 L320.00,499.27 L321.00,499.40 L322.00,499.68 L323.00,499.78 L324.00,499.02 L325.00,499.12 L326.00,499.72 L327.00,499.31 L328.00,499.17 L329.00,499.08 L330.00,499.75 L331.00,499.69 L332.00,499.49 L333.00,499.32 L334.00,499.73 L335.00,499.24 L336.00,499.20 L337.00,499.44 L338.00,499.12 L339.00,499.49 L340.00,499.13 L341.00,499.49 L342.00,499.48 L343.00,499.50 L344.00,499.23 L345.00,499.09 L346.00,499.74 L347.00,499.33 L348.00,499.13 L349.00,499.25 L350.00,499.61 L351.00,499.51 L352.00,499.09 L353.00,499.63 L354.00,499.04 L355.00,499.49 L356.00,499.38 L357.00,499.23 L358.00,499.26 L359.00,499.33 L360.00,499.11 L361.00,499.29 L362.00,499.07 L363.00,499.28 L364.00,499.33 L365.00,499.75 L366.00,499.07 L367.00,499.62 L368.00,499.62 L369.00,499.76 L370.00,499.30 L371.00,499.50 L372.00,499.28 L373.00,499.15 L374.00,499.05 L375.00,499.16 L376.00,499.13 L377.00,499.50 L378.00,499.76 L379.00,499.18 L380.00,499.00 L381.00,499.43 L382.00,499.08 L383.00,499.35 L384.00,499.49 L385.00,499.13 L386.00,499.75 L387.00,499.51 L388.00,499.24 L389.00,499.73 L390.00,499.36 L391.00,499.49 L392.00,499.62 L393.00,499.47 L394.00,499.21 L395.00,499.26 L396.00,499.33 L397.00,499.18 L398.00,499.47 L399.00,499.34 L400.00,499.72 L401.00,499.27 L402.00,499.27 L403.00,499.30 L404.00,499.16 L405.00,499.01 L406.00,499.22 L407.00,499.02 L408.00,499.28 L409.00,499.58 L410.00,499.11 L411.00,499.26 L412.00,499.30 L413.00,499.68 L414.00,499.35 L415.00,499.53 L416.00,499.34 L417.00,499.06 L418.00,499.49 L419.00,499.78 L420.00,499.70 L421.00,499.37 L422.00,499.13 L423.00,499.76 L424.00,499.47 L425.00,499.53 L426.00,499.45 L427.00,499.30 L428.00,499.40 L429.00,499.58 L430.00,499.10 L431.00,499.15 L432.00,499.08 L433.00,499.70 L434.00,499.37 L435.00,499.61 L436.00,499.72 L437.00,499.06 L438.00,499.27 L439.00,499.43 L440.00,499.19 L441.00,499.12 L442.00,499.43 L443.00,499.71 L444.00,499.08 L445.00,499.39 L446.00,499.47 L447.00,499.64 L448.00,499.38 L449.00,499.11 L450.00,499.05 L451.00,499.69 L452.00,499.70 L453.00,499.01 L454.00,499.38 L455.00,499.29 L456.00,499.24 L457.00,499.47 L458.00,499.48 L459.00,499.10 L460.00,499.30 L461.00,499.78 L462.00,499.77 L463.00,499.13 L464.00,499.33 L465.00,499.20 L466.00,499.40 L467.00,499.23 L468.00,499.52 L469.00,499.51 L470.00,499.53 L471.00,499.57 L472.00,499.04 L473.00,499.10 L474.00,499.36 L475.00,499.77 L476.00,499.06 L477.00,499.15 L478.00,499.29 L479.00,499.03 L480.00,499.20 L481.00,499.31 L482.00,499.53 L483.00,499.30 L484.00,499.46 L485.00,499.66 L486.00,499.67 L487.00,499.71 L488.00,499.25 L489.00,499.50 L490.00,499.01 L491.00,499.07 L492.00,499.57 L493.00,499.72 L494.00,499.13 L495.00,499.12 L496.00,499.50 L497.00,499.19 L498.00,499.05 L499.00,499.44 L500.00,499.45 L501.00,499.31 L502.00,499.12 L503.00,499.24 L504.00,499.01 L505.00,499.69 L506.00,499.72 L507.00,499.70 L508.00,499.05 L509.00,499.56 L510.00,499.74 L511.00,499.68 L512.00,499.78 L513.00,499.37 L514.00,499.29 L515.00,499.57 L516.00,499.78 L517.00,499.77 L518.00,499.25 L519.00,499.80 L520.00,499.80 Z" fill="#0c0c0c"/>
<path d="M242.30,499.80 L242.30,499.69 L242.43,499.63 L242.57,499.54 L242.70,499.42 L242.83,499.27 L242.97,499.09 L243.10,498.88 L243.23,498.65 L243.37,498.42 L243.50,498.21 L243.63,498.05 L243.77,497.94 L243.90,497.90 L244.03,497.94 L244.17,498.05 L244.30,498.21 L244.43,498.42 L244.57,498.65 L244.70,498.88 L244.83,499.09 L244.97,499.27 L245.10,499.42 L245.23,499.54 L245.37,499.63 L245.50,499.69 L245.50,499.80 Z M264.60,499.80 L264.60,499.73 L264.87,499.68 L265.13,499.62 L265.40,499.54 L265.67,499.44 L265.93,499.31 L266.20,499.17 L266.47,499.01 L266.73,498.86 L267.00,498.71 L267.27,498.60 L267.53,498.53 L267.80,498.50 L268.07,498.53 L268.33,498.60 L268.60,498.71 L268.87,498.86 L269.13,499.01 L269.40,499.17 L269.67,499.31 L269.93,499.44 L270.20,499.54 L270.47,499.62 L270.73,499.68 L271.00,499.73 L271.00,499.80 Z M311.00,499.80 L311.00,499.74 L311.17,499.71 L311.33,499.66 L311.50,499.60 L311.67,499.52 L311.83,499.42 L312.00,499.31 L312.17,499.19 L312.33,499.07 L312.50,498.96 L312.67,498.88 L312.83,498.82 L313.00,498.80 L313.17,498.82 L313.33,498.88 L313.50,498.96 L313.67,499.07 L313.83,499.19 L314.00,499.31 L314.17,499.42 L314.33,499.52 L314.50,499.60 L314.67,499.66 L314.83,499.71 L315.00,499.74 L315.00,499.80 Z M319.50,499.80 L319.50,499.73 L319.67,499.69 L319.83,499.64 L320.00,499.56 L320.17,499.47 L320.33,499.35 L320.50,499.22 L320.67,499.07 L320.83,498.93 L321.00,498.80 L321.17,498.69 L321.33,498.62 L321.50,498.60 L321.67,498.62 L321.83,498.69 L322.00,498.80 L322.17,498.93 L322.33,499.07 L322.50,499.22 L322.67,499.35 L322.83,499.47 L323.00,499.56 L323.17,499.64 L323.33,499.69 L323.50,499.73 L323.50,499.80 Z M328.80,499.80 L328.80,499.56 L328.95,499.43 L329.10,499.23 L329.25,498.97 L329.40,498.63 L329.55,498.22 L329.70,497.76 L329.85,497.25 L330.00,496.75 L330.15,496.29 L330.30,495.92 L330.45,495.68 L330.60,495.60 L330.75,495.68 L330.90,495.92 L331.05,496.29 L331.20,496.75 L331.35,497.25 L331.50,497.76 L331.65,498.22 L331.80,498.63 L331.95,498.97 L332.10,499.23 L332.25,499.43 L332.40,499.56 L332.40,499.80 Z M338.60,499.80 L338.60,499.73 L338.77,499.68 L338.93,499.62 L339.10,499.54 L339.27,499.44 L339.43,499.31 L339.60,499.17 L339.77,499.01 L339.93,498.86 L340.10,498.71 L340.27,498.60 L340.43,498.53 L340.60,498.50 L340.77,498.53 L340.93,498.60 L341.10,498.71 L341.27,498.86 L341.43,499.01 L341.60,499.17 L341.77,499.31 L341.93,499.44 L342.10,499.54 L342.27,499.62 L342.43,499.68 L342.60,499.73 L342.60,499.80 Z M377.30,499.80 L377.30,499.33 L377.49,499.06 L377.68,498.68 L377.88,498.16 L378.07,497.49 L378.26,496.68 L378.45,495.76 L378.64,494.77 L378.83,493.77 L379.03,492.87 L379.22,492.14 L379.41,491.66 L379.60,491.50 L379.79,491.66 L379.98,492.14 L380.18,492.87 L380.37,493.77 L380.56,494.77 L380.75,495.76 L380.94,496.68 L381.13,497.49 L381.33,498.16 L381.52,498.68 L381.71,499.06 L381.90,499.33 L381.90,499.80 Z M382.80,499.80 L382.80,499.73 L382.93,499.69 L383.07,499.64 L383.20,499.56 L383.33,499.47 L383.47,499.35 L383.60,499.22 L383.73,499.07 L383.87,498.93 L384.00,498.80 L384.13,498.69 L384.27,498.62 L384.40,498.60 L384.53,498.62 L384.67,498.69 L384.80,498.80 L384.93,498.93 L385.07,499.07 L385.20,499.22 L385.33,499.35 L385.47,499.47 L385.60,499.56 L385.73,499.64 L385.87,499.69 L386.00,499.73 L386.00,499.80 Z M397.70,499.80 L397.70,499.76 L397.95,499.69 L398.20,499.58 L398.45,499.41 L398.70,499.22 L398.95,499.06 L399.20,499.00 L399.45,499.06 L399.70,499.22 L399.95,499.41 L400.20,499.58 L400.45,499.69 L400.70,499.76 L400.70,499.80 Z M437.80,499.80 L437.80,498.86 L437.97,498.32 L438.13,497.54 L438.30,496.50 L438.47,495.16 L438.63,493.53 L438.80,491.67 L438.97,489.67 L439.13,487.67 L439.30,485.85 L439.47,484.38 L439.63,483.43 L439.80,483.10 L439.97,483.43 L440.13,484.38 L440.30,485.85 L440.47,487.67 L440.63,489.67 L440.80,491.67 L440.97,493.53 L441.13,495.16 L441.30,496.50 L441.47,497.54 L441.63,498.32 L441.80,498.86 L441.80,499.80 Z M442.70,499.80 L442.70,499.59 L442.84,499.46 L442.98,499.29 L443.12,499.05 L443.27,498.74 L443.41,498.37 L443.55,497.95 L443.69,497.50 L443.83,497.04 L443.97,496.63 L444.12,496.29 L444.26,496.08 L444.40,496.00 L444.54,496.08 L444.68,496.29 L444.82,496.63 L444.97,497.04 L445.11,497.50 L445.25,497.95 L445.39,498.37 L445.53,498.74 L445.67,499.05 L445.82,499.29 L445.96,499.46 L446.10,499.59 L446.10,499.80 Z M450.20,499.80 L450.20,499.76 L450.45,499.69 L450.70,499.58 L450.95,499.41 L451.20,499.22 L451.45,499.06 L451.70,499.00 L451.95,499.06 L452.20,499.22 L452.45,499.41 L452.70,499.58 L452.95,499.69 L453.20,499.76 L453.20,499.80 Z M482.00,499.80 L482.00,499.76 L482.25,499.69 L482.50,499.58 L482.75,499.41 L483.00,499.22 L483.25,499.06 L483.50,499.00 L483.75,499.06 L484.00,499.22 L484.25,499.41 L484.50,499.58 L484.75,499.69 L485.00,499.76 L485.00,499.80 Z M497.30,499.80 L497.30,499.76 L497.55,499.69 L497.80,499.58 L498.05,499.41 L498.30,499.22 L498.55,499.06 L498.80,499.00 L499.05,499.06 L499.30,499.22 L499.55,499.41 L499.80,499.58 L500.05,499.69 L500.30,499.76 L500.30,499.80 Z" fill="#0c0c0c"/>
<path d="M425.40,499.80 L425.40,499.33 L425.62,499.21 L425.83,499.07 L426.05,498.91 L426.27,498.75 L426.48,498.58 L426.70,498.41 L426.92,498.24 L427.13,498.10 L427.35,497.97 L427.57,497.88 L427.78,497.82 L428.00,497.80 L428.22,497.82 L428.43,497.88 L428.65,497.97 L428.87,498.10 L429.08,498.24 L429.30,498.41 L429.52,498.58 L429.73,498.75 L429.95,498.91 L430.17,499.07 L430.38,499.21 L430.60,499.33 L430.60,499.80 Z M264.80,499.80 L264.80,499.47 L265.05,499.38 L265.30,499.29 L265.55,499.18 L265.80,499.06 L266.05,498.94 L266.30,498.82 L266.55,498.71 L266.80,498.61 L267.05,498.52 L267.30,498.46 L267.55,498.41 L267.80,498.40 L268.05,498.41 L268.30,498.46 L268.55,498.52 L268.80,498.61 L269.05,498.71 L269.30,498.82 L269.55,498.94 L269.80,499.06 L270.05,499.18 L270.30,499.29 L270.55,499.38 L270.80,499.47 L270.80,499.80 Z" fill="#0c0c0c"/>
<line x1="243.20" y1="416.60" x2="243.20" y2="499.80" stroke="#858585" stroke-width="1.0" />
<line x1="239.90" y1="447.40" x2="520.00" y2="447.40" stroke="#262626" stroke-width="1.0" />
<line x1="239.90" y1="473.90" x2="520.00" y2="473.90" stroke="#262626" stroke-width="1.0" />
<line x1="239.00" y1="499.80" x2="520.00" y2="499.80" stroke="#262626" stroke-width="1.0" />
<line x1="238.60" y1="429.20" x2="242.90" y2="429.20" stroke="#6e6e6e" stroke-width="0.8" />
<line x1="238.60" y1="455.10" x2="242.90" y2="455.10" stroke="#6e6e6e" stroke-width="0.8" />
<line x1="238.60" y1="481.70" x2="242.90" y2="481.70" stroke="#6e6e6e" stroke-width="0.8" />
<text transform="translate(228.40,432.95) scale(1.07,1)" font-size="8.5" text-anchor="middle" fill="#1c1c1c" stroke="#1c1c1c" stroke-width="0.28" >40</text>
<text transform="translate(228.70,446.35) scale(1.07,1)" font-size="8.5" text-anchor="middle" fill="#1c1c1c" stroke="#1c1c1c" stroke-width="0.28" >0</text>
<text transform="translate(227.80,459.35) scale(1.07,1)" font-size="8.5" text-anchor="middle" fill="#1c1c1c" stroke="#1c1c1c" stroke-width="0.28" >46</text>
<text transform="translate(228.70,473.05) scale(1.07,1)" font-size="8.5" text-anchor="middle" fill="#1c1c1c" stroke="#1c1c1c" stroke-width="0.28" >0</text>
<text transform="translate(227.40,485.65) scale(1.07,1)" font-size="8.5" text-anchor="middle" fill="#1c1c1c" stroke="#1c1c1c" stroke-width="0.28" >47</text>
<text transform="translate(228.70,499.45) scale(1.07,1)" font-size="8.5" text-anchor="middle" fill="#1c1c1c" stroke="#1c1c1c" stroke-width="0.28" >0</text>
<text transform="translate(298.10,435.00) scale(1.09,1)" font-size="10.9" text-anchor="middle" fill="#1c1c1c" stroke="#1c1c1c" stroke-width="0.28" >H3K27ac</text>
<text transform="translate(298.30,461.10) scale(1.09,1)" font-size="10.9" text-anchor="middle" fill="#1c1c1c" stroke="#1c1c1c" stroke-width="0.28" >BATF3</text>
<text transform="translate(298.00,488.30) scale(1.09,1)" font-size="10.9" text-anchor="middle" fill="#1c1c1c" stroke="#1c1c1c" stroke-width="0.28" >IRF8</text>
<text x="329.50" y="519.70" font-size="10.2" text-anchor="end" fill="#1c1c1c" stroke="#1c1c1c" stroke-width="0.28" >10 kb</text>
<line x1="334.00" y1="516.70" x2="428.30" y2="516.70" stroke="#2a2a2a" stroke-width="0.8" />
<line x1="334.00" y1="512.10" x2="334.00" y2="521.30" stroke="#2a2a2a" stroke-width="0.8" />
<line x1="428.30" y1="512.10" x2="428.30" y2="521.30" stroke="#2a2a2a" stroke-width="0.8" />
<text x="432.90" y="519.70" font-size="10.2" text-anchor="start" fill="#1c1c1c" stroke="#1c1c1c" stroke-width="0.28" >mm10</text>
</svg>
</body>
</html>
